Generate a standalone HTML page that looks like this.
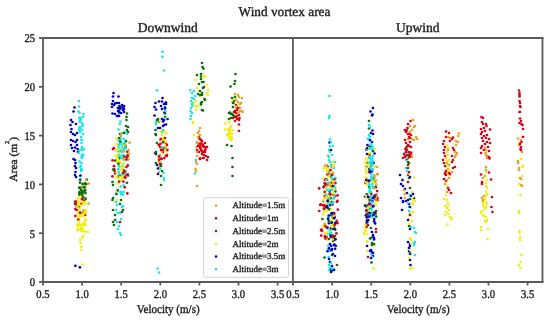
<!DOCTYPE html>
<html><head><meta charset="utf-8"><style>
html,body{margin:0;padding:0;background:#fff;}
svg{display:block;}
text{font-family:"Liberation Serif","Times New Roman",serif;fill:#1a1a1a;stroke:#1a1a1a;stroke-width:0.35px;text-rendering:geometricPrecision;}
</style></head><body>
<svg width="550" height="320" viewBox="0 0 550 320">
<rect width="550" height="320" fill="#fff"/>
<text x="284.5" y="15.6" font-size="13.3" text-anchor="middle">Wind vortex area</text>
<text x="167.7" y="31.6" font-size="13.5" text-anchor="middle">Downwind</text>
<text x="417.7" y="31.6" font-size="13.5" text-anchor="middle">Upwind</text>
<g style="filter:blur(0.3px)"><circle cx="482" cy="132" r="1.35" fill="#dc0018"/><circle cx="240" cy="111" r="1.35" fill="#eaa020"/><circle cx="126.5" cy="117" r="1.35" fill="#0a6e0a"/><circle cx="408" cy="175" r="1.35" fill="#0a6e0a"/><circle cx="123" cy="110" r="1.35" fill="#0000c0"/><circle cx="369.4" cy="217.5" r="1.35" fill="#18e8e8"/><circle cx="335.4" cy="191.5" r="1.35" fill="#0a6e0a"/><circle cx="81" cy="190.2" r="1.35" fill="#0a6e0a"/><circle cx="117" cy="200" r="1.35" fill="#f2ee10"/><circle cx="81.9" cy="197.9" r="1.35" fill="#f2ee10"/><circle cx="410" cy="238" r="1.35" fill="#f2ee10"/><circle cx="522" cy="186" r="1.35" fill="#eaa020"/><circle cx="335.1" cy="229.4" r="1.35" fill="#0000c0"/><circle cx="232.5" cy="102" r="1.35" fill="#f2ee10"/><circle cx="408" cy="139" r="1.35" fill="#eaa020"/><circle cx="486" cy="222" r="1.35" fill="#f2ee10"/><circle cx="202" cy="110" r="1.35" fill="#0a6e0a"/><circle cx="409" cy="207" r="1.35" fill="#18e8e8"/><circle cx="82.1" cy="195.9" r="1.35" fill="#eaa020"/><circle cx="81" cy="169" r="1.35" fill="#18e8e8"/><circle cx="375.2" cy="183.2" r="1.35" fill="#f2ee10"/><circle cx="200" cy="96" r="1.35" fill="#f2ee10"/><circle cx="203.5" cy="82" r="1.35" fill="#0a6e0a"/><circle cx="448" cy="155" r="1.35" fill="#f2ee10"/><circle cx="115.1" cy="160.6" r="1.35" fill="#0a6e0a"/><circle cx="166" cy="143" r="1.35" fill="#dc0018"/><circle cx="120.7" cy="180" r="1.35" fill="#f2ee10"/><circle cx="487" cy="156" r="1.35" fill="#eaa020"/><circle cx="377.3" cy="200.2" r="1.35" fill="#dc0018"/><circle cx="372.1" cy="197.5" r="1.35" fill="#18e8e8"/><circle cx="79.2" cy="128" r="1.35" fill="#18e8e8"/><circle cx="412" cy="156" r="1.35" fill="#eaa020"/><circle cx="324.3" cy="193.8" r="1.35" fill="#f2ee10"/><circle cx="366.2" cy="172.8" r="1.35" fill="#f2ee10"/><circle cx="197" cy="156" r="1.35" fill="#eaa020"/><circle cx="333.9" cy="184.8" r="1.35" fill="#dc0018"/><circle cx="125.5" cy="142.3" r="1.35" fill="#18e8e8"/><circle cx="127" cy="130" r="1.35" fill="#0a6e0a"/><circle cx="73.5" cy="159" r="1.35" fill="#0000c0"/><circle cx="369.4" cy="157.6" r="1.35" fill="#0000c0"/><circle cx="329.3" cy="194.9" r="1.35" fill="#0a6e0a"/><circle cx="165" cy="108.5" r="1.35" fill="#0000c0"/><circle cx="230" cy="112.5" r="1.35" fill="#0a6e0a"/><circle cx="447" cy="173" r="1.35" fill="#f2ee10"/><circle cx="415" cy="232" r="1.35" fill="#18e8e8"/><circle cx="236" cy="105" r="1.35" fill="#dc0018"/><circle cx="160" cy="140" r="1.35" fill="#eaa020"/><circle cx="487" cy="188" r="1.35" fill="#f2ee10"/><circle cx="166" cy="142" r="1.35" fill="#f2ee10"/><circle cx="368.7" cy="181.7" r="1.35" fill="#f2ee10"/><circle cx="370.7" cy="199.7" r="1.35" fill="#0a6e0a"/><circle cx="487" cy="135" r="1.35" fill="#dc0018"/><circle cx="332.6" cy="204.6" r="1.35" fill="#dc0018"/><circle cx="114" cy="225" r="1.35" fill="#0a6e0a"/><circle cx="126.5" cy="157.4" r="1.35" fill="#0a6e0a"/><circle cx="200" cy="135" r="1.35" fill="#eaa020"/><circle cx="127.3" cy="193.4" r="1.35" fill="#dc0018"/><circle cx="234" cy="101" r="1.35" fill="#0a6e0a"/><circle cx="79.3" cy="207.3" r="1.35" fill="#f2ee10"/><circle cx="519.5" cy="231" r="1.35" fill="#f2ee10"/><circle cx="484" cy="196" r="1.35" fill="#eaa020"/><circle cx="332" cy="272" r="1.35" fill="#f2ee10"/><circle cx="408" cy="165" r="1.35" fill="#dc0018"/><circle cx="71" cy="145" r="1.35" fill="#0000c0"/><circle cx="78.2" cy="197.5" r="1.35" fill="#f2ee10"/><circle cx="159" cy="121.5" r="1.35" fill="#0a6e0a"/><circle cx="445" cy="215" r="1.35" fill="#f2ee10"/><circle cx="329.7" cy="192.9" r="1.35" fill="#18e8e8"/><circle cx="481" cy="129" r="1.35" fill="#dc0018"/><circle cx="118.1" cy="183.2" r="1.35" fill="#f2ee10"/><circle cx="336" cy="246" r="1.35" fill="#0a6e0a"/><circle cx="372" cy="142" r="1.35" fill="#0000c0"/><circle cx="162" cy="119" r="1.35" fill="#0000c0"/><circle cx="122.5" cy="175.7" r="1.35" fill="#18e8e8"/><circle cx="233" cy="107" r="1.35" fill="#0a6e0a"/><circle cx="521" cy="185" r="1.35" fill="#eaa020"/><circle cx="167.5" cy="119" r="1.35" fill="#0000c0"/><circle cx="327.2" cy="204.8" r="1.35" fill="#0000c0"/><circle cx="118" cy="183.4" r="1.35" fill="#f2ee10"/><circle cx="239.5" cy="118" r="1.35" fill="#dc0018"/><circle cx="450" cy="138" r="1.35" fill="#eaa020"/><circle cx="121.6" cy="151.6" r="1.35" fill="#18e8e8"/><circle cx="78.5" cy="224" r="1.35" fill="#f2ee10"/><circle cx="409.2" cy="133.8" r="1.35" fill="#dc0018"/><circle cx="332" cy="255" r="1.35" fill="#0a6e0a"/><circle cx="204" cy="75.5" r="1.35" fill="#f2ee10"/><circle cx="411" cy="147" r="1.35" fill="#dc0018"/><circle cx="332.8" cy="174.1" r="1.35" fill="#0000c0"/><circle cx="372.3" cy="213.7" r="1.35" fill="#0000c0"/><circle cx="155.5" cy="103" r="1.35" fill="#0000c0"/><circle cx="371.5" cy="180.2" r="1.35" fill="#18e8e8"/><circle cx="324.4" cy="186.7" r="1.35" fill="#dc0018"/><circle cx="329.5" cy="142.5" r="1.35" fill="#0000c0"/><circle cx="72.5" cy="122" r="1.35" fill="#0000c0"/><circle cx="163" cy="138" r="1.35" fill="#f2ee10"/><circle cx="158.5" cy="144.8" r="1.35" fill="#eaa020"/><circle cx="332.3" cy="215.7" r="1.35" fill="#eaa020"/><circle cx="239" cy="97" r="1.35" fill="#eaa020"/><circle cx="196" cy="162" r="1.35" fill="#eaa020"/><circle cx="335" cy="236" r="1.35" fill="#0a6e0a"/><circle cx="84.8" cy="221.4" r="1.35" fill="#f2ee10"/><circle cx="406" cy="201" r="1.35" fill="#0000c0"/><circle cx="162" cy="135" r="1.35" fill="#f2ee10"/><circle cx="333" cy="146" r="1.35" fill="#18e8e8"/><circle cx="114.5" cy="171.1" r="1.35" fill="#dc0018"/><circle cx="371" cy="144" r="1.35" fill="#18e8e8"/><circle cx="372" cy="243" r="1.35" fill="#0a6e0a"/><circle cx="483" cy="205" r="1.35" fill="#f2ee10"/><circle cx="237" cy="106" r="1.35" fill="#eaa020"/><circle cx="410" cy="213" r="1.35" fill="#f2ee10"/><circle cx="486" cy="183" r="1.35" fill="#f2ee10"/><circle cx="334.4" cy="216.5" r="1.35" fill="#0000c0"/><circle cx="483" cy="141" r="1.35" fill="#dc0018"/><circle cx="199" cy="145" r="1.35" fill="#dc0018"/><circle cx="325.7" cy="186.7" r="1.35" fill="#f2ee10"/><circle cx="121" cy="219" r="1.35" fill="#18e8e8"/><circle cx="376" cy="232" r="1.35" fill="#dc0018"/><circle cx="369" cy="128.5" r="1.35" fill="#0a6e0a"/><circle cx="164.6" cy="141.3" r="1.35" fill="#f2ee10"/><circle cx="162.9" cy="149" r="1.35" fill="#eaa020"/><circle cx="191" cy="108" r="1.35" fill="#18e8e8"/><circle cx="164" cy="148" r="1.35" fill="#dc0018"/><circle cx="321.5" cy="229.7" r="1.35" fill="#dc0018"/><circle cx="486" cy="167" r="1.35" fill="#eaa020"/><circle cx="200" cy="159" r="1.35" fill="#dc0018"/><circle cx="408" cy="162" r="1.35" fill="#0a6e0a"/><circle cx="410" cy="260" r="1.35" fill="#0000c0"/><circle cx="159" cy="158" r="1.35" fill="#eaa020"/><circle cx="331.1" cy="194.4" r="1.35" fill="#f2ee10"/><circle cx="332" cy="249" r="1.35" fill="#0000c0"/><circle cx="332.1" cy="221.7" r="1.35" fill="#18e8e8"/><circle cx="161" cy="185" r="1.35" fill="#0a6e0a"/><circle cx="365.8" cy="215.1" r="1.35" fill="#f2ee10"/><circle cx="120.5" cy="150.2" r="1.35" fill="#18e8e8"/><circle cx="80.8" cy="229.1" r="1.35" fill="#f2ee10"/><circle cx="84.6" cy="190.7" r="1.35" fill="#0a6e0a"/><circle cx="116" cy="155.9" r="1.35" fill="#f2ee10"/><circle cx="75.4" cy="265.8" r="1.35" fill="#0000c0"/><circle cx="407" cy="150" r="1.35" fill="#dc0018"/><circle cx="368.1" cy="197.1" r="1.35" fill="#0000c0"/><circle cx="523" cy="129" r="1.35" fill="#dc0018"/><circle cx="328.3" cy="210.2" r="1.35" fill="#18e8e8"/><circle cx="367" cy="178.4" r="1.35" fill="#f2ee10"/><circle cx="75.8" cy="204.1" r="1.35" fill="#dc0018"/><circle cx="333" cy="241" r="1.35" fill="#0a6e0a"/><circle cx="157" cy="143" r="1.35" fill="#0a6e0a"/><circle cx="372" cy="232" r="1.35" fill="#0000c0"/><circle cx="335.4" cy="182.9" r="1.35" fill="#dc0018"/><circle cx="125" cy="132" r="1.35" fill="#18e8e8"/><circle cx="331" cy="272" r="1.35" fill="#0000c0"/><circle cx="193" cy="122" r="1.35" fill="#f2ee10"/><circle cx="80" cy="193.5" r="1.35" fill="#eaa020"/><circle cx="337" cy="265" r="1.35" fill="#0a6e0a"/><circle cx="370.3" cy="146.1" r="1.35" fill="#18e8e8"/><circle cx="370.4" cy="201.1" r="1.35" fill="#18e8e8"/><circle cx="80.6" cy="230.1" r="1.35" fill="#f2ee10"/><circle cx="414" cy="243" r="1.35" fill="#18e8e8"/><circle cx="78.1" cy="202.3" r="1.35" fill="#f2ee10"/><circle cx="373" cy="256" r="1.35" fill="#0000c0"/><circle cx="120" cy="204" r="1.35" fill="#0a6e0a"/><circle cx="120.1" cy="143.2" r="1.35" fill="#18e8e8"/><circle cx="127.6" cy="155.1" r="1.35" fill="#dc0018"/><circle cx="520" cy="118.5" r="1.35" fill="#dc0018"/><circle cx="230" cy="138.4" r="1.35" fill="#f2ee10"/><circle cx="371.2" cy="171.2" r="1.35" fill="#18e8e8"/><circle cx="330" cy="268" r="1.35" fill="#18e8e8"/><circle cx="329" cy="176" r="1.35" fill="#f2ee10"/><circle cx="121" cy="194" r="1.35" fill="#18e8e8"/><circle cx="75" cy="166" r="1.35" fill="#0000c0"/><circle cx="371" cy="250" r="1.35" fill="#0000c0"/><circle cx="335.3" cy="188.7" r="1.35" fill="#eaa020"/><circle cx="327.4" cy="174.5" r="1.35" fill="#dc0018"/><circle cx="331" cy="177" r="1.35" fill="#0a6e0a"/><circle cx="79" cy="106.5" r="1.35" fill="#18e8e8"/><circle cx="79.7" cy="121.7" r="1.35" fill="#18e8e8"/><circle cx="329" cy="270" r="1.35" fill="#18e8e8"/><circle cx="330.8" cy="208.5" r="1.35" fill="#f2ee10"/><circle cx="115.2" cy="173.4" r="1.35" fill="#dc0018"/><circle cx="331.2" cy="231.3" r="1.35" fill="#f2ee10"/><circle cx="370" cy="211.3" r="1.35" fill="#18e8e8"/><circle cx="408" cy="242" r="1.35" fill="#0000c0"/><circle cx="452" cy="139" r="1.35" fill="#dc0018"/><circle cx="487.5" cy="239" r="1.35" fill="#f2ee10"/><circle cx="163" cy="153" r="1.35" fill="#f2ee10"/><circle cx="323.4" cy="178.3" r="1.35" fill="#f2ee10"/><circle cx="122.4" cy="155.6" r="1.35" fill="#18e8e8"/><circle cx="118.5" cy="129.5" r="1.35" fill="#18e8e8"/><circle cx="234.5" cy="117" r="1.35" fill="#dc0018"/><circle cx="119.3" cy="112.4" r="1.35" fill="#0000c0"/><circle cx="199" cy="137" r="1.35" fill="#dc0018"/><circle cx="80.1" cy="206.3" r="1.35" fill="#f2ee10"/><circle cx="452" cy="218" r="1.35" fill="#f2ee10"/><circle cx="128" cy="127" r="1.35" fill="#0a6e0a"/><circle cx="159.7" cy="162.2" r="1.35" fill="#eaa020"/><circle cx="81.8" cy="231.2" r="1.35" fill="#f2ee10"/><circle cx="85.3" cy="187.7" r="1.35" fill="#eaa020"/><circle cx="123.3" cy="143.7" r="1.35" fill="#18e8e8"/><circle cx="482" cy="122" r="1.35" fill="#dc0018"/><circle cx="230.5" cy="86.5" r="1.35" fill="#0a6e0a"/><circle cx="370" cy="127" r="1.35" fill="#18e8e8"/><circle cx="79.3" cy="211.7" r="1.35" fill="#f2ee10"/><circle cx="486" cy="124" r="1.35" fill="#dc0018"/><circle cx="116" cy="194" r="1.35" fill="#18e8e8"/><circle cx="79.3" cy="150.7" r="1.35" fill="#18e8e8"/><circle cx="409" cy="178" r="1.35" fill="#0a6e0a"/><circle cx="203" cy="152" r="1.35" fill="#dc0018"/><circle cx="445" cy="147" r="1.35" fill="#dc0018"/><circle cx="452" cy="156" r="1.35" fill="#dc0018"/><circle cx="119.8" cy="176.1" r="1.35" fill="#18e8e8"/><circle cx="328" cy="167.1" r="1.35" fill="#0000c0"/><circle cx="372" cy="146" r="1.35" fill="#18e8e8"/><circle cx="447" cy="192" r="1.35" fill="#eaa020"/><circle cx="336.4" cy="233.4" r="1.35" fill="#dc0018"/><circle cx="372.5" cy="130.5" r="1.35" fill="#0000c0"/><circle cx="117.6" cy="161.7" r="1.35" fill="#f2ee10"/><circle cx="79.5" cy="127" r="1.35" fill="#18e8e8"/><circle cx="82.9" cy="225" r="1.35" fill="#f2ee10"/><circle cx="333" cy="182" r="1.35" fill="#0000c0"/><circle cx="370.6" cy="165" r="1.35" fill="#18e8e8"/><circle cx="157" cy="90.5" r="1.35" fill="#18e8e8"/><circle cx="375.1" cy="179.6" r="1.35" fill="#f2ee10"/><circle cx="370.6" cy="163.1" r="1.35" fill="#18e8e8"/><circle cx="326.1" cy="194.5" r="1.35" fill="#18e8e8"/><circle cx="366.6" cy="214.6" r="1.35" fill="#0a6e0a"/><circle cx="120" cy="124" r="1.35" fill="#18e8e8"/><circle cx="329" cy="160" r="1.35" fill="#18e8e8"/><circle cx="331.8" cy="186.2" r="1.35" fill="#18e8e8"/><circle cx="121" cy="113" r="1.35" fill="#0000c0"/><circle cx="84.6" cy="200.9" r="1.35" fill="#eaa020"/><circle cx="333.7" cy="239.9" r="1.35" fill="#dc0018"/><circle cx="408" cy="182" r="1.35" fill="#dc0018"/><circle cx="328.7" cy="197.7" r="1.35" fill="#dc0018"/><circle cx="84.6" cy="213.8" r="1.35" fill="#f2ee10"/><circle cx="191" cy="116" r="1.35" fill="#18e8e8"/><circle cx="84.3" cy="231.5" r="1.35" fill="#f2ee10"/><circle cx="74.5" cy="107.5" r="1.35" fill="#0000c0"/><circle cx="203" cy="88" r="1.35" fill="#0a6e0a"/><circle cx="408" cy="124" r="1.35" fill="#dc0018"/><circle cx="82" cy="158" r="1.35" fill="#18e8e8"/><circle cx="126.9" cy="182.8" r="1.35" fill="#0a6e0a"/><circle cx="409" cy="211" r="1.35" fill="#18e8e8"/><circle cx="85.7" cy="198.7" r="1.35" fill="#0a6e0a"/><circle cx="366.1" cy="224.2" r="1.35" fill="#0a6e0a"/><circle cx="86.8" cy="179.7" r="1.35" fill="#0a6e0a"/><circle cx="191" cy="101" r="1.35" fill="#18e8e8"/><circle cx="192.5" cy="106" r="1.35" fill="#18e8e8"/><circle cx="201" cy="79" r="1.35" fill="#0a6e0a"/><circle cx="332.6" cy="162.5" r="1.35" fill="#f2ee10"/><circle cx="375.5" cy="199.5" r="1.35" fill="#dc0018"/><circle cx="366.3" cy="210.4" r="1.35" fill="#0000c0"/><circle cx="83" cy="236" r="1.35" fill="#f2ee10"/><circle cx="327.5" cy="207.3" r="1.35" fill="#18e8e8"/><circle cx="521" cy="147" r="1.35" fill="#dc0018"/><circle cx="156" cy="154" r="1.35" fill="#0000c0"/><circle cx="160" cy="128" r="1.35" fill="#0000c0"/><circle cx="412" cy="192" r="1.35" fill="#f2ee10"/><circle cx="486" cy="138" r="1.35" fill="#dc0018"/><circle cx="123.1" cy="150.5" r="1.35" fill="#eaa020"/><circle cx="113" cy="222" r="1.35" fill="#0a6e0a"/><circle cx="123.9" cy="160" r="1.35" fill="#18e8e8"/><circle cx="333" cy="229" r="1.35" fill="#0000c0"/><circle cx="367" cy="241" r="1.35" fill="#f2ee10"/><circle cx="118.7" cy="140.3" r="1.35" fill="#18e8e8"/><circle cx="80.2" cy="198" r="1.35" fill="#f2ee10"/><circle cx="83.7" cy="199.7" r="1.35" fill="#dc0018"/><circle cx="371.6" cy="178" r="1.35" fill="#18e8e8"/><circle cx="367.1" cy="148.8" r="1.35" fill="#0000c0"/><circle cx="319.2" cy="188.4" r="1.35" fill="#dc0018"/><circle cx="239" cy="119" r="1.35" fill="#dc0018"/><circle cx="330.1" cy="194.7" r="1.35" fill="#dc0018"/><circle cx="118.4" cy="146.1" r="1.35" fill="#18e8e8"/><circle cx="159" cy="172" r="1.35" fill="#eaa020"/><circle cx="409" cy="251" r="1.35" fill="#0000c0"/><circle cx="522.5" cy="125" r="1.35" fill="#dc0018"/><circle cx="448" cy="150" r="1.35" fill="#eaa020"/><circle cx="123.7" cy="185.3" r="1.35" fill="#18e8e8"/><circle cx="330.6" cy="174.7" r="1.35" fill="#18e8e8"/><circle cx="120.8" cy="138.7" r="1.35" fill="#18e8e8"/><circle cx="410.5" cy="121" r="1.35" fill="#dc0018"/><circle cx="82" cy="155" r="1.35" fill="#18e8e8"/><circle cx="120.8" cy="186.6" r="1.35" fill="#18e8e8"/><circle cx="367.1" cy="162.9" r="1.35" fill="#0000c0"/><circle cx="331.8" cy="225.1" r="1.35" fill="#f2ee10"/><circle cx="333" cy="174" r="1.35" fill="#18e8e8"/><circle cx="372.8" cy="156.2" r="1.35" fill="#18e8e8"/><circle cx="366.2" cy="167" r="1.35" fill="#0000c0"/><circle cx="113" cy="210" r="1.35" fill="#0a6e0a"/><circle cx="325" cy="236.3" r="1.35" fill="#dc0018"/><circle cx="371.6" cy="147.6" r="1.35" fill="#18e8e8"/><circle cx="164.5" cy="131.2" r="1.35" fill="#f2ee10"/><circle cx="371.8" cy="206.9" r="1.35" fill="#18e8e8"/><circle cx="327.9" cy="183.3" r="1.35" fill="#eaa020"/><circle cx="81" cy="171" r="1.35" fill="#18e8e8"/><circle cx="410" cy="244" r="1.35" fill="#0000c0"/><circle cx="410" cy="157" r="1.35" fill="#0a6e0a"/><circle cx="162.2" cy="138.6" r="1.35" fill="#f2ee10"/><circle cx="367.9" cy="207.8" r="1.35" fill="#dc0018"/><circle cx="77.8" cy="220.1" r="1.35" fill="#f2ee10"/><circle cx="232" cy="138" r="1.35" fill="#f2ee10"/><circle cx="82.8" cy="192.3" r="1.35" fill="#0a6e0a"/><circle cx="371.4" cy="163.8" r="1.35" fill="#0000c0"/><circle cx="127.3" cy="151.7" r="1.35" fill="#dc0018"/><circle cx="372.2" cy="183.7" r="1.35" fill="#18e8e8"/><circle cx="230" cy="128" r="1.35" fill="#f2ee10"/><circle cx="125.1" cy="176.7" r="1.35" fill="#18e8e8"/><circle cx="198" cy="106" r="1.35" fill="#f2ee10"/><circle cx="328.7" cy="217" r="1.35" fill="#0a6e0a"/><circle cx="403" cy="186" r="1.35" fill="#0000c0"/><circle cx="79.3" cy="130.2" r="1.35" fill="#18e8e8"/><circle cx="483" cy="124" r="1.35" fill="#dc0018"/><circle cx="80.9" cy="119.5" r="1.35" fill="#18e8e8"/><circle cx="78.5" cy="219.9" r="1.35" fill="#dc0018"/><circle cx="456" cy="145" r="1.35" fill="#eaa020"/><circle cx="408.9" cy="152.3" r="1.35" fill="#dc0018"/><circle cx="199" cy="84" r="1.35" fill="#0a6e0a"/><circle cx="331.1" cy="198.3" r="1.35" fill="#0000c0"/><circle cx="156" cy="109.5" r="1.35" fill="#0000c0"/><circle cx="481" cy="227" r="1.35" fill="#f2ee10"/><circle cx="228" cy="134" r="1.35" fill="#f2ee10"/><circle cx="522" cy="152" r="1.35" fill="#eaa020"/><circle cx="368" cy="139" r="1.35" fill="#18e8e8"/><circle cx="161.6" cy="147.4" r="1.35" fill="#dc0018"/><circle cx="331.4" cy="270.6" r="1.35" fill="#0000c0"/><circle cx="80.2" cy="213" r="1.35" fill="#f2ee10"/><circle cx="519.5" cy="96.5" r="1.35" fill="#dc0018"/><circle cx="128" cy="132" r="1.35" fill="#0a6e0a"/><circle cx="329.2" cy="204.3" r="1.35" fill="#f2ee10"/><circle cx="375.1" cy="223.4" r="1.35" fill="#0000c0"/><circle cx="405" cy="189" r="1.35" fill="#0000c0"/><circle cx="376.3" cy="201.7" r="1.35" fill="#f2ee10"/><circle cx="370" cy="211.1" r="1.35" fill="#18e8e8"/><circle cx="445" cy="184" r="1.35" fill="#eaa020"/><circle cx="119.2" cy="174.8" r="1.35" fill="#18e8e8"/><circle cx="332.2" cy="235.1" r="1.35" fill="#f2ee10"/><circle cx="483" cy="215" r="1.35" fill="#f2ee10"/><circle cx="370.8" cy="158.7" r="1.35" fill="#18e8e8"/><circle cx="163" cy="121.5" r="1.35" fill="#0000c0"/><circle cx="364" cy="233" r="1.35" fill="#f2ee10"/><circle cx="519" cy="184" r="1.35" fill="#f2ee10"/><circle cx="331.4" cy="204.7" r="1.35" fill="#18e8e8"/><circle cx="118" cy="213" r="1.35" fill="#18e8e8"/><circle cx="84.2" cy="199.8" r="1.35" fill="#0a6e0a"/><circle cx="331.7" cy="182.5" r="1.35" fill="#0000c0"/><circle cx="119.1" cy="153.3" r="1.35" fill="#f2ee10"/><circle cx="159" cy="160" r="1.35" fill="#dc0018"/><circle cx="368.8" cy="204.7" r="1.35" fill="#0000c0"/><circle cx="408" cy="152" r="1.35" fill="#18e8e8"/><circle cx="333" cy="172.9" r="1.35" fill="#eaa020"/><circle cx="377.4" cy="198.2" r="1.35" fill="#dc0018"/><circle cx="78" cy="152" r="1.35" fill="#0000c0"/><circle cx="118" cy="190" r="1.35" fill="#f2ee10"/><circle cx="519.5" cy="112" r="1.35" fill="#dc0018"/><circle cx="129.6" cy="142.7" r="1.35" fill="#eaa020"/><circle cx="195" cy="96" r="1.35" fill="#18e8e8"/><circle cx="482" cy="146" r="1.35" fill="#dc0018"/><circle cx="195" cy="173.5" r="1.35" fill="#18e8e8"/><circle cx="159" cy="167" r="1.35" fill="#eaa020"/><circle cx="162" cy="109" r="1.35" fill="#0000c0"/><circle cx="122" cy="145.1" r="1.35" fill="#18e8e8"/><circle cx="372.5" cy="180.4" r="1.35" fill="#f2ee10"/><circle cx="409" cy="152" r="1.35" fill="#dc0018"/><circle cx="205" cy="152" r="1.35" fill="#dc0018"/><circle cx="375.1" cy="166.5" r="1.35" fill="#f2ee10"/><circle cx="325.6" cy="206.8" r="1.35" fill="#f2ee10"/><circle cx="369.5" cy="181.3" r="1.35" fill="#f2ee10"/><circle cx="200" cy="91" r="1.35" fill="#f2ee10"/><circle cx="122.4" cy="175.1" r="1.35" fill="#18e8e8"/><circle cx="446" cy="137" r="1.35" fill="#dc0018"/><circle cx="364" cy="234" r="1.35" fill="#f2ee10"/><circle cx="369.1" cy="156.8" r="1.35" fill="#18e8e8"/><circle cx="329" cy="150" r="1.35" fill="#18e8e8"/><circle cx="486" cy="207" r="1.35" fill="#f2ee10"/><circle cx="369" cy="121" r="1.35" fill="#0a6e0a"/><circle cx="235" cy="97" r="1.35" fill="#0a6e0a"/><circle cx="368.6" cy="181.2" r="1.35" fill="#dc0018"/><circle cx="199" cy="144" r="1.35" fill="#eaa020"/><circle cx="370.4" cy="209.4" r="1.35" fill="#0000c0"/><circle cx="482" cy="211" r="1.35" fill="#f2ee10"/><circle cx="369.4" cy="171.7" r="1.35" fill="#18e8e8"/><circle cx="331" cy="165" r="1.35" fill="#18e8e8"/><circle cx="80" cy="204.8" r="1.35" fill="#f2ee10"/><circle cx="331" cy="246" r="1.35" fill="#0000c0"/><circle cx="196.5" cy="147" r="1.35" fill="#eaa020"/><circle cx="333" cy="254" r="1.35" fill="#0000c0"/><circle cx="375.6" cy="213.7" r="1.35" fill="#dc0018"/><circle cx="483" cy="178" r="1.35" fill="#eaa020"/><circle cx="116" cy="210" r="1.35" fill="#18e8e8"/><circle cx="330" cy="181" r="1.35" fill="#f2ee10"/><circle cx="331" cy="237" r="1.35" fill="#0000c0"/><circle cx="373.3" cy="178.3" r="1.35" fill="#0a6e0a"/><circle cx="456" cy="141" r="1.35" fill="#eaa020"/><circle cx="414" cy="127" r="1.35" fill="#eaa020"/><circle cx="162" cy="101.5" r="1.35" fill="#0000c0"/><circle cx="325.6" cy="210.1" r="1.35" fill="#f2ee10"/><circle cx="416" cy="137" r="1.35" fill="#eaa020"/><circle cx="407" cy="146.5" r="1.35" fill="#0a6e0a"/><circle cx="328.2" cy="229.7" r="1.35" fill="#f2ee10"/><circle cx="325" cy="237" r="1.35" fill="#dc0018"/><circle cx="365.6" cy="183.9" r="1.35" fill="#f2ee10"/><circle cx="112" cy="104" r="1.35" fill="#0000c0"/><circle cx="371.3" cy="209.5" r="1.35" fill="#18e8e8"/><circle cx="485" cy="221" r="1.35" fill="#f2ee10"/><circle cx="113" cy="198" r="1.35" fill="#0a6e0a"/><circle cx="445" cy="206" r="1.35" fill="#f2ee10"/><circle cx="125.6" cy="147.2" r="1.35" fill="#0a6e0a"/><circle cx="159" cy="145" r="1.35" fill="#dc0018"/><circle cx="335" cy="256" r="1.35" fill="#0000c0"/><circle cx="322.4" cy="219" r="1.35" fill="#0a6e0a"/><circle cx="330" cy="221.4" r="1.35" fill="#dc0018"/><circle cx="366" cy="167.6" r="1.35" fill="#f2ee10"/><circle cx="370" cy="251" r="1.35" fill="#0000c0"/><circle cx="447" cy="200" r="1.35" fill="#f2ee10"/><circle cx="327" cy="172" r="1.35" fill="#eaa020"/><circle cx="324.8" cy="196.4" r="1.35" fill="#dc0018"/><circle cx="336.7" cy="220.9" r="1.35" fill="#dc0018"/><circle cx="120" cy="213" r="1.35" fill="#18e8e8"/><circle cx="124.7" cy="187.3" r="1.35" fill="#dc0018"/><circle cx="163" cy="152" r="1.35" fill="#dc0018"/><circle cx="372.3" cy="169.6" r="1.35" fill="#0000c0"/><circle cx="411.2" cy="152.7" r="1.35" fill="#dc0018"/><circle cx="410" cy="195" r="1.35" fill="#18e8e8"/><circle cx="371.2" cy="177.4" r="1.35" fill="#18e8e8"/><circle cx="118.5" cy="172.5" r="1.35" fill="#18e8e8"/><circle cx="157.5" cy="268.5" r="1.35" fill="#18e8e8"/><circle cx="166" cy="151" r="1.35" fill="#f2ee10"/><circle cx="229" cy="113" r="1.35" fill="#0a6e0a"/><circle cx="519" cy="170" r="1.35" fill="#eaa020"/><circle cx="366.6" cy="161.5" r="1.35" fill="#f2ee10"/><circle cx="202" cy="63" r="1.35" fill="#0a6e0a"/><circle cx="159" cy="162" r="1.35" fill="#eaa020"/><circle cx="80.2" cy="216.2" r="1.35" fill="#f2ee10"/><circle cx="333" cy="270" r="1.35" fill="#0000c0"/><circle cx="403" cy="202" r="1.35" fill="#0000c0"/><circle cx="413" cy="212" r="1.35" fill="#f2ee10"/><circle cx="119.6" cy="150.7" r="1.35" fill="#18e8e8"/><circle cx="372.7" cy="198.8" r="1.35" fill="#18e8e8"/><circle cx="156" cy="152" r="1.35" fill="#0a6e0a"/><circle cx="122.8" cy="194.7" r="1.35" fill="#18e8e8"/><circle cx="326" cy="167.7" r="1.35" fill="#f2ee10"/><circle cx="203" cy="146" r="1.35" fill="#dc0018"/><circle cx="160" cy="166" r="1.35" fill="#eaa020"/><circle cx="373.5" cy="268.5" r="1.35" fill="#f2ee10"/><circle cx="80.5" cy="243" r="1.35" fill="#f2ee10"/><circle cx="370.9" cy="215.5" r="1.35" fill="#0000c0"/><circle cx="325.6" cy="184.9" r="1.35" fill="#dc0018"/><circle cx="164.3" cy="158.1" r="1.35" fill="#dc0018"/><circle cx="326" cy="227" r="1.35" fill="#f2ee10"/><circle cx="400" cy="175" r="1.35" fill="#0000c0"/><circle cx="82.6" cy="228.5" r="1.35" fill="#f2ee10"/><circle cx="208" cy="157" r="1.35" fill="#dc0018"/><circle cx="115" cy="114" r="1.35" fill="#0000c0"/><circle cx="450" cy="175" r="1.35" fill="#f2ee10"/><circle cx="411" cy="196" r="1.35" fill="#0000c0"/><circle cx="71" cy="132" r="1.35" fill="#0000c0"/><circle cx="334.7" cy="195.9" r="1.35" fill="#dc0018"/><circle cx="119.3" cy="155.3" r="1.35" fill="#18e8e8"/><circle cx="327" cy="234.2" r="1.35" fill="#18e8e8"/><circle cx="81.5" cy="190.5" r="1.35" fill="#0a6e0a"/><circle cx="79.4" cy="117.7" r="1.35" fill="#18e8e8"/><circle cx="123.5" cy="155" r="1.35" fill="#18e8e8"/><circle cx="374.4" cy="177" r="1.35" fill="#eaa020"/><circle cx="375" cy="245" r="1.35" fill="#f2ee10"/><circle cx="366" cy="231" r="1.35" fill="#f2ee10"/><circle cx="235" cy="111" r="1.35" fill="#dc0018"/><circle cx="115.2" cy="103.3" r="1.35" fill="#0000c0"/><circle cx="82" cy="147" r="1.35" fill="#18e8e8"/><circle cx="374.5" cy="212.6" r="1.35" fill="#0000c0"/><circle cx="411" cy="227" r="1.35" fill="#18e8e8"/><circle cx="208" cy="95" r="1.35" fill="#f2ee10"/><circle cx="403" cy="158" r="1.35" fill="#dc0018"/><circle cx="332" cy="155" r="1.35" fill="#18e8e8"/><circle cx="122.6" cy="166" r="1.35" fill="#18e8e8"/><circle cx="234.5" cy="84" r="1.35" fill="#0a6e0a"/><circle cx="118.5" cy="177.4" r="1.35" fill="#18e8e8"/><circle cx="520" cy="178" r="1.35" fill="#eaa020"/><circle cx="447.5" cy="224.5" r="1.35" fill="#f2ee10"/><circle cx="332.7" cy="235.7" r="1.35" fill="#dc0018"/><circle cx="371.4" cy="160.7" r="1.35" fill="#18e8e8"/><circle cx="488" cy="229" r="1.35" fill="#f2ee10"/><circle cx="118.8" cy="148.6" r="1.35" fill="#18e8e8"/><circle cx="116.4" cy="177.3" r="1.35" fill="#f2ee10"/><circle cx="521" cy="140" r="1.35" fill="#eaa020"/><circle cx="236" cy="113" r="1.35" fill="#dc0018"/><circle cx="123" cy="158.5" r="1.35" fill="#18e8e8"/><circle cx="373.6" cy="162.8" r="1.35" fill="#0000c0"/><circle cx="164" cy="120" r="1.35" fill="#0000c0"/><circle cx="377.8" cy="174" r="1.35" fill="#eaa020"/><circle cx="446" cy="131.5" r="1.35" fill="#dc0018"/><circle cx="369.2" cy="202.1" r="1.35" fill="#18e8e8"/><circle cx="330" cy="139.5" r="1.35" fill="#18e8e8"/><circle cx="230.1" cy="131.2" r="1.35" fill="#f2ee10"/><circle cx="118.6" cy="175.5" r="1.35" fill="#18e8e8"/><circle cx="366.3" cy="149.4" r="1.35" fill="#0000c0"/><circle cx="403" cy="201" r="1.35" fill="#0000c0"/><circle cx="410" cy="138" r="1.35" fill="#dc0018"/><circle cx="75.2" cy="201.7" r="1.35" fill="#dc0018"/><circle cx="331.7" cy="213.5" r="1.35" fill="#0000c0"/><circle cx="232" cy="134" r="1.35" fill="#f2ee10"/><circle cx="414" cy="228" r="1.35" fill="#18e8e8"/><circle cx="454" cy="150" r="1.35" fill="#dc0018"/><circle cx="166.3" cy="133.2" r="1.35" fill="#f2ee10"/><circle cx="488" cy="147" r="1.35" fill="#dc0018"/><circle cx="325.1" cy="165.6" r="1.35" fill="#eaa020"/><circle cx="327.3" cy="197.3" r="1.35" fill="#f2ee10"/><circle cx="328" cy="155.5" r="1.35" fill="#eaa020"/><circle cx="369.8" cy="189.8" r="1.35" fill="#18e8e8"/><circle cx="335" cy="178" r="1.35" fill="#18e8e8"/><circle cx="231.5" cy="140" r="1.35" fill="#f2ee10"/><circle cx="329.9" cy="193.7" r="1.35" fill="#dc0018"/><circle cx="374.8" cy="195.5" r="1.35" fill="#0000c0"/><circle cx="406" cy="160" r="1.35" fill="#18e8e8"/><circle cx="231.5" cy="146" r="1.35" fill="#0a6e0a"/><circle cx="329.5" cy="221.5" r="1.35" fill="#18e8e8"/><circle cx="200" cy="148" r="1.35" fill="#dc0018"/><circle cx="371.5" cy="177.1" r="1.35" fill="#18e8e8"/><circle cx="329" cy="249" r="1.35" fill="#18e8e8"/><circle cx="445" cy="156" r="1.35" fill="#dc0018"/><circle cx="158" cy="168.5" r="1.35" fill="#0000c0"/><circle cx="415" cy="201" r="1.35" fill="#f2ee10"/><circle cx="190" cy="90" r="1.35" fill="#18e8e8"/><circle cx="519" cy="90.5" r="1.35" fill="#dc0018"/><circle cx="158" cy="128" r="1.35" fill="#0000c0"/><circle cx="323.4" cy="214.5" r="1.35" fill="#f2ee10"/><circle cx="374.8" cy="183" r="1.35" fill="#eaa020"/><circle cx="371.5" cy="195.9" r="1.35" fill="#18e8e8"/><circle cx="123.9" cy="106.4" r="1.35" fill="#0000c0"/><circle cx="337.6" cy="195.3" r="1.35" fill="#dc0018"/><circle cx="127.8" cy="165.4" r="1.35" fill="#dc0018"/><circle cx="204.5" cy="99" r="1.35" fill="#0a6e0a"/><circle cx="331.2" cy="177.7" r="1.35" fill="#18e8e8"/><circle cx="410" cy="142" r="1.35" fill="#dc0018"/><circle cx="118.3" cy="159.6" r="1.35" fill="#f2ee10"/><circle cx="80.9" cy="227.5" r="1.35" fill="#f2ee10"/><circle cx="81.5" cy="213.3" r="1.35" fill="#0a6e0a"/><circle cx="160.8" cy="139.1" r="1.35" fill="#dc0018"/><circle cx="192" cy="98" r="1.35" fill="#18e8e8"/><circle cx="368.2" cy="184" r="1.35" fill="#f2ee10"/><circle cx="116" cy="202" r="1.35" fill="#18e8e8"/><circle cx="324.1" cy="208.7" r="1.35" fill="#0a6e0a"/><circle cx="84.2" cy="213" r="1.35" fill="#0a6e0a"/><circle cx="77" cy="140" r="1.35" fill="#0000c0"/><circle cx="482" cy="198" r="1.35" fill="#eaa020"/><circle cx="521" cy="150" r="1.35" fill="#dc0018"/><circle cx="204" cy="87" r="1.35" fill="#0a6e0a"/><circle cx="72" cy="148" r="1.35" fill="#0000c0"/><circle cx="330.1" cy="205.1" r="1.35" fill="#0000c0"/><circle cx="522" cy="176" r="1.35" fill="#f2ee10"/><circle cx="78.8" cy="204.2" r="1.35" fill="#f2ee10"/><circle cx="329" cy="157" r="1.35" fill="#18e8e8"/><circle cx="202.1" cy="151.4" r="1.35" fill="#dc0018"/><circle cx="401" cy="184" r="1.35" fill="#0000c0"/><circle cx="333.5" cy="237.4" r="1.35" fill="#f2ee10"/><circle cx="323.9" cy="208.8" r="1.35" fill="#dc0018"/><circle cx="520.5" cy="195" r="1.35" fill="#f2ee10"/><circle cx="165.5" cy="102.5" r="1.35" fill="#18e8e8"/><circle cx="79" cy="101" r="1.35" fill="#18e8e8"/><circle cx="371" cy="192.2" r="1.35" fill="#18e8e8"/><circle cx="164" cy="180" r="1.35" fill="#18e8e8"/><circle cx="448" cy="165" r="1.35" fill="#f2ee10"/><circle cx="193" cy="123" r="1.35" fill="#f2ee10"/><circle cx="120" cy="107.6" r="1.35" fill="#0000c0"/><circle cx="88.6" cy="183.6" r="1.35" fill="#eaa020"/><circle cx="489.5" cy="158.5" r="1.35" fill="#dc0018"/><circle cx="240" cy="108" r="1.35" fill="#eaa020"/><circle cx="446" cy="195" r="1.35" fill="#f2ee10"/><circle cx="197" cy="143" r="1.35" fill="#eaa020"/><circle cx="196" cy="106" r="1.35" fill="#f2ee10"/><circle cx="459" cy="133.5" r="1.35" fill="#eaa020"/><circle cx="203" cy="145" r="1.35" fill="#dc0018"/><circle cx="327.6" cy="251.2" r="1.35" fill="#0000c0"/><circle cx="487" cy="142" r="1.35" fill="#dc0018"/><circle cx="372.3" cy="164.3" r="1.35" fill="#18e8e8"/><circle cx="80.2" cy="166.8" r="1.35" fill="#18e8e8"/><circle cx="375.9" cy="198.8" r="1.35" fill="#dc0018"/><circle cx="372.5" cy="114.5" r="1.35" fill="#0000c0"/><circle cx="446" cy="158" r="1.35" fill="#f2ee10"/><circle cx="120.2" cy="143.2" r="1.35" fill="#18e8e8"/><circle cx="197" cy="75" r="1.35" fill="#0a6e0a"/><circle cx="369" cy="171.6" r="1.35" fill="#18e8e8"/><circle cx="121.9" cy="176.2" r="1.35" fill="#f2ee10"/><circle cx="236" cy="117" r="1.35" fill="#dc0018"/><circle cx="492.5" cy="212" r="1.35" fill="#dc0018"/><circle cx="122" cy="133" r="1.35" fill="#18e8e8"/><circle cx="116.7" cy="177.5" r="1.35" fill="#f2ee10"/><circle cx="167" cy="145" r="1.35" fill="#dc0018"/><circle cx="81" cy="137" r="1.35" fill="#18e8e8"/><circle cx="326.6" cy="186.5" r="1.35" fill="#18e8e8"/><circle cx="85.2" cy="224.4" r="1.35" fill="#f2ee10"/><circle cx="123.1" cy="170.1" r="1.35" fill="#18e8e8"/><circle cx="81.6" cy="186.6" r="1.35" fill="#eaa020"/><circle cx="371.7" cy="216.5" r="1.35" fill="#18e8e8"/><circle cx="329.8" cy="197.9" r="1.35" fill="#0a6e0a"/><circle cx="409" cy="248" r="1.35" fill="#0000c0"/><circle cx="78.2" cy="228.9" r="1.35" fill="#f2ee10"/><circle cx="367" cy="251" r="1.35" fill="#f2ee10"/><circle cx="370.1" cy="166.5" r="1.35" fill="#dc0018"/><circle cx="75.5" cy="172" r="1.35" fill="#0000c0"/><circle cx="369.5" cy="147" r="1.35" fill="#0000c0"/><circle cx="160" cy="155" r="1.35" fill="#eaa020"/><circle cx="76.4" cy="201.3" r="1.35" fill="#dc0018"/><circle cx="326.9" cy="184.2" r="1.35" fill="#dc0018"/><circle cx="119.5" cy="106" r="1.35" fill="#0000c0"/><circle cx="367" cy="242" r="1.35" fill="#f2ee10"/><circle cx="200" cy="91" r="1.35" fill="#0a6e0a"/><circle cx="126.5" cy="120" r="1.35" fill="#0a6e0a"/><circle cx="120" cy="134" r="1.35" fill="#0a6e0a"/><circle cx="323.3" cy="201.6" r="1.35" fill="#eaa020"/><circle cx="521" cy="121" r="1.35" fill="#dc0018"/><circle cx="164.8" cy="146.1" r="1.35" fill="#f2ee10"/><circle cx="75" cy="203.8" r="1.35" fill="#dc0018"/><circle cx="326.2" cy="206" r="1.35" fill="#0000c0"/><circle cx="371.5" cy="174.4" r="1.35" fill="#18e8e8"/><circle cx="84.7" cy="225.2" r="1.35" fill="#f2ee10"/><circle cx="161" cy="166" r="1.35" fill="#0a6e0a"/><circle cx="157" cy="165" r="1.35" fill="#0000c0"/><circle cx="325" cy="180" r="1.35" fill="#dc0018"/><circle cx="486" cy="217" r="1.35" fill="#f2ee10"/><circle cx="82.1" cy="192.4" r="1.35" fill="#0a6e0a"/><circle cx="196" cy="101" r="1.35" fill="#f2ee10"/><circle cx="366.2" cy="183.8" r="1.35" fill="#f2ee10"/><circle cx="235" cy="94" r="1.35" fill="#eaa020"/><circle cx="83.6" cy="187.5" r="1.35" fill="#0a6e0a"/><circle cx="481" cy="174.5" r="1.35" fill="#dc0018"/><circle cx="328.8" cy="202.8" r="1.35" fill="#18e8e8"/><circle cx="455" cy="167" r="1.35" fill="#dc0018"/><circle cx="328.3" cy="204" r="1.35" fill="#18e8e8"/><circle cx="521.5" cy="124" r="1.35" fill="#dc0018"/><circle cx="123" cy="169.5" r="1.35" fill="#f2ee10"/><circle cx="201" cy="103" r="1.35" fill="#0a6e0a"/><circle cx="366.9" cy="218.5" r="1.35" fill="#f2ee10"/><circle cx="373" cy="108" r="1.35" fill="#0000c0"/><circle cx="520" cy="237.5" r="1.35" fill="#f2ee10"/><circle cx="448" cy="137" r="1.35" fill="#eaa020"/><circle cx="326.7" cy="237.3" r="1.35" fill="#dc0018"/><circle cx="78.8" cy="206.2" r="1.35" fill="#0a6e0a"/><circle cx="485" cy="131" r="1.35" fill="#dc0018"/><circle cx="330.3" cy="189.9" r="1.35" fill="#f2ee10"/><circle cx="375.6" cy="187.2" r="1.35" fill="#eaa020"/><circle cx="120.5" cy="121.5" r="1.35" fill="#18e8e8"/><circle cx="80" cy="225" r="1.35" fill="#f2ee10"/><circle cx="329.6" cy="190.9" r="1.35" fill="#0a6e0a"/><circle cx="370.7" cy="164.5" r="1.35" fill="#0a6e0a"/><circle cx="333.5" cy="237.1" r="1.35" fill="#0000c0"/><circle cx="83.9" cy="149.1" r="1.35" fill="#18e8e8"/><circle cx="127" cy="134" r="1.35" fill="#18e8e8"/><circle cx="163.5" cy="173" r="1.35" fill="#18e8e8"/><circle cx="77.5" cy="149" r="1.35" fill="#0000c0"/><circle cx="198" cy="146" r="1.35" fill="#dc0018"/><circle cx="233" cy="115" r="1.35" fill="#0a6e0a"/><circle cx="412" cy="268" r="1.35" fill="#f2ee10"/><circle cx="487" cy="194" r="1.35" fill="#f2ee10"/><circle cx="402" cy="210" r="1.35" fill="#0000c0"/><circle cx="369.5" cy="187.1" r="1.35" fill="#f2ee10"/><circle cx="231" cy="126" r="1.35" fill="#f2ee10"/><circle cx="77.8" cy="200.6" r="1.35" fill="#f2ee10"/><circle cx="366" cy="170.7" r="1.35" fill="#f2ee10"/><circle cx="160.9" cy="158.6" r="1.35" fill="#dc0018"/><circle cx="331.9" cy="220.2" r="1.35" fill="#f2ee10"/><circle cx="334.1" cy="269.8" r="1.35" fill="#0000c0"/><circle cx="446" cy="212" r="1.35" fill="#f2ee10"/><circle cx="162.5" cy="98" r="1.35" fill="#0000c0"/><circle cx="81.7" cy="197.7" r="1.35" fill="#f2ee10"/><circle cx="76" cy="177" r="1.35" fill="#0000c0"/><circle cx="367.7" cy="207.9" r="1.35" fill="#f2ee10"/><circle cx="366.9" cy="148.8" r="1.35" fill="#f2ee10"/><circle cx="124.3" cy="176.9" r="1.35" fill="#18e8e8"/><circle cx="200.4" cy="146.7" r="1.35" fill="#dc0018"/><circle cx="333" cy="184" r="1.35" fill="#dc0018"/><circle cx="482" cy="184" r="1.35" fill="#dc0018"/><circle cx="365.2" cy="182.6" r="1.35" fill="#dc0018"/><circle cx="485" cy="144" r="1.35" fill="#dc0018"/><circle cx="201" cy="74" r="1.35" fill="#0a6e0a"/><circle cx="320.7" cy="204.3" r="1.35" fill="#dc0018"/><circle cx="410" cy="250" r="1.35" fill="#f2ee10"/><circle cx="410" cy="188" r="1.35" fill="#0a6e0a"/><circle cx="232.5" cy="167" r="1.35" fill="#0a6e0a"/><circle cx="321.1" cy="230.2" r="1.35" fill="#dc0018"/><circle cx="519.5" cy="93" r="1.35" fill="#dc0018"/><circle cx="368.3" cy="206.8" r="1.35" fill="#f2ee10"/><circle cx="124.4" cy="156.6" r="1.35" fill="#dc0018"/><circle cx="520" cy="103" r="1.35" fill="#dc0018"/><circle cx="118.1" cy="151.3" r="1.35" fill="#18e8e8"/><circle cx="334.5" cy="217.1" r="1.35" fill="#0000c0"/><circle cx="327" cy="180" r="1.35" fill="#dc0018"/><circle cx="334" cy="224.8" r="1.35" fill="#eaa020"/><circle cx="366.7" cy="194.4" r="1.35" fill="#0000c0"/><circle cx="520" cy="106" r="1.35" fill="#dc0018"/><circle cx="233" cy="130" r="1.35" fill="#f2ee10"/><circle cx="490" cy="143" r="1.35" fill="#dc0018"/><circle cx="118" cy="111" r="1.35" fill="#0000c0"/><circle cx="484" cy="216" r="1.35" fill="#f2ee10"/><circle cx="331" cy="142" r="1.35" fill="#18e8e8"/><circle cx="370" cy="137" r="1.35" fill="#18e8e8"/><circle cx="489" cy="151" r="1.35" fill="#dc0018"/><circle cx="448" cy="169" r="1.35" fill="#eaa020"/><circle cx="119.8" cy="161.6" r="1.35" fill="#f2ee10"/><circle cx="368.5" cy="215.2" r="1.35" fill="#f2ee10"/><circle cx="367.8" cy="212.5" r="1.35" fill="#dc0018"/><circle cx="122" cy="107.6" r="1.35" fill="#0000c0"/><circle cx="81" cy="203.4" r="1.35" fill="#f2ee10"/><circle cx="335" cy="162" r="1.35" fill="#18e8e8"/><circle cx="329.7" cy="201.7" r="1.35" fill="#f2ee10"/><circle cx="369" cy="206.8" r="1.35" fill="#18e8e8"/><circle cx="205" cy="100" r="1.35" fill="#0a6e0a"/><circle cx="449" cy="178" r="1.35" fill="#eaa020"/><circle cx="331" cy="150" r="1.35" fill="#0000c0"/><circle cx="377.2" cy="191.1" r="1.35" fill="#dc0018"/><circle cx="520" cy="143" r="1.35" fill="#eaa020"/><circle cx="373" cy="236.5" r="1.35" fill="#0000c0"/><circle cx="331.6" cy="187.5" r="1.35" fill="#f2ee10"/><circle cx="225.5" cy="123.5" r="1.35" fill="#f2ee10"/><circle cx="333.8" cy="217.9" r="1.35" fill="#18e8e8"/><circle cx="330" cy="152" r="1.35" fill="#18e8e8"/><circle cx="203" cy="110.5" r="1.35" fill="#0a6e0a"/><circle cx="448" cy="206" r="1.35" fill="#f2ee10"/><circle cx="519.5" cy="101" r="1.35" fill="#dc0018"/><circle cx="368.5" cy="187" r="1.35" fill="#f2ee10"/><circle cx="367.9" cy="207.4" r="1.35" fill="#f2ee10"/><circle cx="376.2" cy="184.7" r="1.35" fill="#eaa020"/><circle cx="230" cy="136.9" r="1.35" fill="#f2ee10"/><circle cx="159" cy="272.5" r="1.35" fill="#18e8e8"/><circle cx="81.2" cy="213.9" r="1.35" fill="#f2ee10"/><circle cx="116.4" cy="144.1" r="1.35" fill="#f2ee10"/><circle cx="331" cy="233" r="1.35" fill="#18e8e8"/><circle cx="122" cy="105" r="1.35" fill="#0000c0"/><circle cx="120.4" cy="192.1" r="1.35" fill="#18e8e8"/><circle cx="366" cy="215.2" r="1.35" fill="#0000c0"/><circle cx="334.2" cy="239.1" r="1.35" fill="#0000c0"/><circle cx="333" cy="213.2" r="1.35" fill="#0000c0"/><circle cx="370" cy="163" r="1.35" fill="#18e8e8"/><circle cx="372.5" cy="147.1" r="1.35" fill="#18e8e8"/><circle cx="71" cy="120" r="1.35" fill="#0000c0"/><circle cx="78.6" cy="219.5" r="1.35" fill="#dc0018"/><circle cx="374.6" cy="153.5" r="1.35" fill="#0000c0"/><circle cx="239" cy="115" r="1.35" fill="#dc0018"/><circle cx="81.5" cy="203.3" r="1.35" fill="#dc0018"/><circle cx="328.7" cy="257" r="1.35" fill="#18e8e8"/><circle cx="369" cy="192.4" r="1.35" fill="#18e8e8"/><circle cx="120.3" cy="176.3" r="1.35" fill="#dc0018"/><circle cx="75" cy="175" r="1.35" fill="#0000c0"/><circle cx="411" cy="135" r="1.35" fill="#dc0018"/><circle cx="82" cy="224.4" r="1.35" fill="#f2ee10"/><circle cx="120" cy="233" r="1.35" fill="#18e8e8"/><circle cx="164" cy="140" r="1.35" fill="#f2ee10"/><circle cx="487" cy="158" r="1.35" fill="#eaa020"/><circle cx="329" cy="223.2" r="1.35" fill="#0000c0"/><circle cx="445" cy="173" r="1.35" fill="#dc0018"/><circle cx="413" cy="194" r="1.35" fill="#0000c0"/><circle cx="322" cy="231" r="1.35" fill="#dc0018"/><circle cx="519" cy="168" r="1.35" fill="#eaa020"/><circle cx="242" cy="111" r="1.35" fill="#eaa020"/><circle cx="333.6" cy="164.9" r="1.35" fill="#f2ee10"/><circle cx="156" cy="122" r="1.35" fill="#18e8e8"/><circle cx="122.2" cy="147.5" r="1.35" fill="#18e8e8"/><circle cx="164" cy="104" r="1.35" fill="#0000c0"/><circle cx="78.8" cy="152.7" r="1.35" fill="#18e8e8"/><circle cx="371.1" cy="210.5" r="1.35" fill="#18e8e8"/><circle cx="405" cy="198" r="1.35" fill="#eaa020"/><circle cx="116.5" cy="193.9" r="1.35" fill="#0a6e0a"/><circle cx="118.7" cy="172.2" r="1.35" fill="#18e8e8"/><circle cx="163" cy="149" r="1.35" fill="#18e8e8"/><circle cx="329" cy="183" r="1.35" fill="#18e8e8"/><circle cx="117.9" cy="108.1" r="1.35" fill="#0000c0"/><circle cx="122" cy="212" r="1.35" fill="#0a6e0a"/><circle cx="407" cy="159" r="1.35" fill="#dc0018"/><circle cx="119" cy="103" r="1.35" fill="#0000c0"/><circle cx="406" cy="148" r="1.35" fill="#dc0018"/><circle cx="446" cy="175" r="1.35" fill="#dc0018"/><circle cx="81.8" cy="202.1" r="1.35" fill="#f2ee10"/><circle cx="205" cy="143" r="1.35" fill="#dc0018"/><circle cx="409" cy="163" r="1.35" fill="#0a6e0a"/><circle cx="234" cy="99" r="1.35" fill="#f2ee10"/><circle cx="229" cy="119" r="1.35" fill="#0a6e0a"/><circle cx="367" cy="234" r="1.35" fill="#f2ee10"/><circle cx="83" cy="125" r="1.35" fill="#18e8e8"/><circle cx="85.1" cy="190.2" r="1.35" fill="#0a6e0a"/><circle cx="370.9" cy="206.5" r="1.35" fill="#18e8e8"/><circle cx="446" cy="171" r="1.35" fill="#dc0018"/><circle cx="112.4" cy="176.4" r="1.35" fill="#dc0018"/><circle cx="485" cy="209" r="1.35" fill="#f2ee10"/><circle cx="112.5" cy="182" r="1.35" fill="#0a6e0a"/><circle cx="484" cy="150" r="1.35" fill="#dc0018"/><circle cx="123" cy="210" r="1.35" fill="#0a6e0a"/><circle cx="83.3" cy="199" r="1.35" fill="#eaa020"/><circle cx="405.3" cy="156.2" r="1.35" fill="#dc0018"/><circle cx="409" cy="146" r="1.35" fill="#dc0018"/><circle cx="414" cy="198" r="1.35" fill="#0000c0"/><circle cx="414" cy="177.5" r="1.35" fill="#f2ee10"/><circle cx="486.5" cy="126" r="1.35" fill="#dc0018"/><circle cx="372" cy="257" r="1.35" fill="#18e8e8"/><circle cx="85.6" cy="209.8" r="1.35" fill="#f2ee10"/><circle cx="118.6" cy="164.8" r="1.35" fill="#18e8e8"/><circle cx="486" cy="192" r="1.35" fill="#f2ee10"/><circle cx="328.8" cy="190.1" r="1.35" fill="#18e8e8"/><circle cx="205" cy="77" r="1.35" fill="#f2ee10"/><circle cx="370" cy="238.5" r="1.35" fill="#0a6e0a"/><circle cx="369.4" cy="192" r="1.35" fill="#18e8e8"/><circle cx="120" cy="138.6" r="1.35" fill="#18e8e8"/><circle cx="82.6" cy="183.9" r="1.35" fill="#0a6e0a"/><circle cx="487" cy="204" r="1.35" fill="#f2ee10"/><circle cx="371" cy="133" r="1.35" fill="#0000c0"/><circle cx="82.5" cy="264.5" r="1.35" fill="#f2ee10"/><circle cx="371.5" cy="171.9" r="1.35" fill="#18e8e8"/><circle cx="372" cy="252" r="1.35" fill="#0000c0"/><circle cx="114" cy="166.2" r="1.35" fill="#dc0018"/><circle cx="129.1" cy="154.1" r="1.35" fill="#eaa020"/><circle cx="368.6" cy="218.2" r="1.35" fill="#f2ee10"/><circle cx="203.5" cy="68.5" r="1.35" fill="#0a6e0a"/><circle cx="327.4" cy="227.7" r="1.35" fill="#0000c0"/><circle cx="417" cy="139" r="1.35" fill="#eaa020"/><circle cx="238" cy="113" r="1.35" fill="#dc0018"/><circle cx="128.6" cy="159.4" r="1.35" fill="#eaa020"/><circle cx="366.6" cy="226.8" r="1.35" fill="#dc0018"/><circle cx="125.9" cy="171.3" r="1.35" fill="#18e8e8"/><circle cx="76.8" cy="206.7" r="1.35" fill="#0a6e0a"/><circle cx="520" cy="240" r="1.35" fill="#f2ee10"/><circle cx="116.7" cy="156.8" r="1.35" fill="#f2ee10"/><circle cx="230" cy="133" r="1.35" fill="#f2ee10"/><circle cx="83.2" cy="197.1" r="1.35" fill="#0a6e0a"/><circle cx="410" cy="254" r="1.35" fill="#0000c0"/><circle cx="371.3" cy="193.8" r="1.35" fill="#18e8e8"/><circle cx="367.9" cy="225.2" r="1.35" fill="#dc0018"/><circle cx="519.5" cy="233" r="1.35" fill="#f2ee10"/><circle cx="116.6" cy="172.8" r="1.35" fill="#f2ee10"/><circle cx="162" cy="171" r="1.35" fill="#0a6e0a"/><circle cx="81.7" cy="229.7" r="1.35" fill="#f2ee10"/><circle cx="332" cy="167" r="1.35" fill="#0000c0"/><circle cx="447" cy="152" r="1.35" fill="#f2ee10"/><circle cx="119.2" cy="154.3" r="1.35" fill="#f2ee10"/><circle cx="405.9" cy="152.2" r="1.35" fill="#dc0018"/><circle cx="331" cy="185" r="1.35" fill="#f2ee10"/><circle cx="78.6" cy="224.6" r="1.35" fill="#f2ee10"/><circle cx="376" cy="229" r="1.35" fill="#dc0018"/><circle cx="333.4" cy="184.4" r="1.35" fill="#f2ee10"/><circle cx="447" cy="163" r="1.35" fill="#eaa020"/><circle cx="335.5" cy="239.3" r="1.35" fill="#0000c0"/><circle cx="375" cy="149" r="1.35" fill="#f2ee10"/><circle cx="328.2" cy="245.8" r="1.35" fill="#18e8e8"/><circle cx="368.8" cy="199" r="1.35" fill="#f2ee10"/><circle cx="199.9" cy="143.6" r="1.35" fill="#dc0018"/><circle cx="410" cy="239" r="1.35" fill="#f2ee10"/><circle cx="369" cy="185.7" r="1.35" fill="#18e8e8"/><circle cx="414" cy="140" r="1.35" fill="#eaa020"/><circle cx="161.7" cy="159" r="1.35" fill="#dc0018"/><circle cx="410" cy="207" r="1.35" fill="#0000c0"/><circle cx="374" cy="239.5" r="1.35" fill="#0000c0"/><circle cx="113" cy="101" r="1.35" fill="#0000c0"/><circle cx="415" cy="255" r="1.35" fill="#18e8e8"/><circle cx="368.4" cy="196.9" r="1.35" fill="#0000c0"/><circle cx="192" cy="104" r="1.35" fill="#18e8e8"/><circle cx="371.5" cy="262.5" r="1.35" fill="#0a6e0a"/><circle cx="405" cy="157" r="1.35" fill="#dc0018"/><circle cx="329.8" cy="233.9" r="1.35" fill="#18e8e8"/><circle cx="199" cy="139" r="1.35" fill="#eaa020"/><circle cx="331.3" cy="213.5" r="1.35" fill="#0000c0"/><circle cx="481" cy="134" r="1.35" fill="#dc0018"/><circle cx="411" cy="244" r="1.35" fill="#f2ee10"/><circle cx="330" cy="170" r="1.35" fill="#f2ee10"/><circle cx="80" cy="240" r="1.35" fill="#f2ee10"/><circle cx="370.3" cy="200" r="1.35" fill="#18e8e8"/><circle cx="234" cy="116" r="1.35" fill="#0a6e0a"/><circle cx="444" cy="163" r="1.35" fill="#dc0018"/><circle cx="369.3" cy="187.4" r="1.35" fill="#0a6e0a"/><circle cx="80" cy="118" r="1.35" fill="#18e8e8"/><circle cx="481.5" cy="117" r="1.35" fill="#dc0018"/><circle cx="201" cy="76.5" r="1.35" fill="#0a6e0a"/><circle cx="82" cy="156.6" r="1.35" fill="#18e8e8"/><circle cx="489" cy="157" r="1.35" fill="#dc0018"/><circle cx="410" cy="253" r="1.35" fill="#0a6e0a"/><circle cx="335.2" cy="245.3" r="1.35" fill="#0000c0"/><circle cx="202.5" cy="67" r="1.35" fill="#0a6e0a"/><circle cx="451" cy="193" r="1.35" fill="#dc0018"/><circle cx="367" cy="210.9" r="1.35" fill="#f2ee10"/><circle cx="119" cy="138" r="1.35" fill="#0a6e0a"/><circle cx="323" cy="205.4" r="1.35" fill="#dc0018"/><circle cx="408" cy="174" r="1.35" fill="#eaa020"/><circle cx="410" cy="199" r="1.35" fill="#0a6e0a"/><circle cx="86" cy="184.2" r="1.35" fill="#0a6e0a"/><circle cx="202" cy="95" r="1.35" fill="#0a6e0a"/><circle cx="126" cy="141" r="1.35" fill="#0a6e0a"/><circle cx="85.7" cy="210.9" r="1.35" fill="#f2ee10"/><circle cx="162" cy="132" r="1.35" fill="#18e8e8"/><circle cx="376.2" cy="194.9" r="1.35" fill="#dc0018"/><circle cx="85.7" cy="219.7" r="1.35" fill="#f2ee10"/><circle cx="329.8" cy="221.4" r="1.35" fill="#f2ee10"/><circle cx="159" cy="156.4" r="1.35" fill="#dc0018"/><circle cx="166" cy="104" r="1.35" fill="#0000c0"/><circle cx="447" cy="161" r="1.35" fill="#f2ee10"/><circle cx="88" cy="232" r="1.35" fill="#f2ee10"/><circle cx="409" cy="226" r="1.35" fill="#0a6e0a"/><circle cx="235.5" cy="74" r="1.35" fill="#0a6e0a"/><circle cx="117.1" cy="162.6" r="1.35" fill="#f2ee10"/><circle cx="329.1" cy="209.1" r="1.35" fill="#0a6e0a"/><circle cx="372" cy="179.5" r="1.35" fill="#18e8e8"/><circle cx="320.2" cy="205" r="1.35" fill="#dc0018"/><circle cx="192" cy="93" r="1.35" fill="#18e8e8"/><circle cx="518" cy="161" r="1.35" fill="#eaa020"/><circle cx="79" cy="204.9" r="1.35" fill="#f2ee10"/><circle cx="119" cy="116" r="1.35" fill="#0000c0"/><circle cx="161" cy="164" r="1.35" fill="#0a6e0a"/><circle cx="327.4" cy="207" r="1.35" fill="#dc0018"/><circle cx="373" cy="187.6" r="1.35" fill="#18e8e8"/><circle cx="200" cy="95" r="1.35" fill="#0a6e0a"/><circle cx="408" cy="200" r="1.35" fill="#0000c0"/><circle cx="333.1" cy="219.1" r="1.35" fill="#f2ee10"/><circle cx="445" cy="174" r="1.35" fill="#dc0018"/><circle cx="409" cy="172" r="1.35" fill="#dc0018"/><circle cx="228" cy="129.7" r="1.35" fill="#f2ee10"/><circle cx="519" cy="145" r="1.35" fill="#eaa020"/><circle cx="198" cy="133" r="1.35" fill="#eaa020"/><circle cx="123.8" cy="170.3" r="1.35" fill="#dc0018"/><circle cx="334.2" cy="227.9" r="1.35" fill="#0a6e0a"/><circle cx="206" cy="156" r="1.35" fill="#dc0018"/><circle cx="446" cy="167" r="1.35" fill="#f2ee10"/><circle cx="410" cy="132" r="1.35" fill="#eaa020"/><circle cx="125.5" cy="148.4" r="1.35" fill="#18e8e8"/><circle cx="73" cy="134" r="1.35" fill="#0000c0"/><circle cx="321.2" cy="235.6" r="1.35" fill="#dc0018"/><circle cx="453" cy="137.5" r="1.35" fill="#dc0018"/><circle cx="408" cy="145" r="1.35" fill="#dc0018"/><circle cx="413" cy="200" r="1.35" fill="#f2ee10"/><circle cx="83.2" cy="210.7" r="1.35" fill="#eaa020"/><circle cx="79.5" cy="193.1" r="1.35" fill="#0a6e0a"/><circle cx="88.6" cy="203.5" r="1.35" fill="#eaa020"/><circle cx="81.5" cy="143" r="1.35" fill="#18e8e8"/><circle cx="324.5" cy="257.5" r="1.35" fill="#0a6e0a"/><circle cx="335.1" cy="248.8" r="1.35" fill="#0000c0"/><circle cx="329.4" cy="201.6" r="1.35" fill="#f2ee10"/><circle cx="335.4" cy="178.6" r="1.35" fill="#18e8e8"/><circle cx="365.1" cy="205.7" r="1.35" fill="#0000c0"/><circle cx="235" cy="121" r="1.35" fill="#dc0018"/><circle cx="332" cy="201.8" r="1.35" fill="#0a6e0a"/><circle cx="112.5" cy="200" r="1.35" fill="#0a6e0a"/><circle cx="156" cy="135" r="1.35" fill="#0a6e0a"/><circle cx="75.5" cy="163" r="1.35" fill="#0000c0"/><circle cx="452" cy="172" r="1.35" fill="#eaa020"/><circle cx="80" cy="132" r="1.35" fill="#18e8e8"/><circle cx="201" cy="150" r="1.35" fill="#dc0018"/><circle cx="323.4" cy="199.7" r="1.35" fill="#f2ee10"/><circle cx="402.5" cy="180" r="1.35" fill="#0000c0"/><circle cx="376" cy="211.2" r="1.35" fill="#0a6e0a"/><circle cx="329" cy="265.1" r="1.35" fill="#18e8e8"/><circle cx="523" cy="137" r="1.35" fill="#dc0018"/><circle cx="482" cy="138" r="1.35" fill="#dc0018"/><circle cx="81.5" cy="250" r="1.35" fill="#f2ee10"/><circle cx="331.7" cy="222.7" r="1.35" fill="#0000c0"/><circle cx="409" cy="137" r="1.35" fill="#dc0018"/><circle cx="367.4" cy="148.2" r="1.35" fill="#0000c0"/><circle cx="333.2" cy="202.2" r="1.35" fill="#18e8e8"/><circle cx="116.3" cy="139.1" r="1.35" fill="#f2ee10"/><circle cx="128" cy="175.4" r="1.35" fill="#0a6e0a"/><circle cx="85.1" cy="214.9" r="1.35" fill="#dc0018"/><circle cx="118" cy="145.7" r="1.35" fill="#f2ee10"/><circle cx="370" cy="141" r="1.35" fill="#18e8e8"/><circle cx="518" cy="163" r="1.35" fill="#eaa020"/><circle cx="369.6" cy="199.8" r="1.35" fill="#dc0018"/><circle cx="489" cy="139" r="1.35" fill="#dc0018"/><circle cx="82.9" cy="117.2" r="1.35" fill="#18e8e8"/><circle cx="481" cy="213" r="1.35" fill="#f2ee10"/><circle cx="166" cy="102.5" r="1.35" fill="#0000c0"/><circle cx="199" cy="152" r="1.35" fill="#dc0018"/><circle cx="71.5" cy="129" r="1.35" fill="#0000c0"/><circle cx="233" cy="118" r="1.35" fill="#dc0018"/><circle cx="154.5" cy="115.5" r="1.35" fill="#0000c0"/><circle cx="193" cy="103" r="1.35" fill="#18e8e8"/><circle cx="118.6" cy="147.6" r="1.35" fill="#18e8e8"/><circle cx="113.5" cy="93" r="1.35" fill="#0000c0"/><circle cx="124.1" cy="149.6" r="1.35" fill="#18e8e8"/><circle cx="372" cy="214" r="1.35" fill="#18e8e8"/><circle cx="369.2" cy="184.3" r="1.35" fill="#18e8e8"/><circle cx="372" cy="149.5" r="1.35" fill="#18e8e8"/><circle cx="78.6" cy="213.6" r="1.35" fill="#f2ee10"/><circle cx="520" cy="112" r="1.35" fill="#dc0018"/><circle cx="118.5" cy="154.8" r="1.35" fill="#f2ee10"/><circle cx="330" cy="232.8" r="1.35" fill="#18e8e8"/><circle cx="365.8" cy="158.8" r="1.35" fill="#f2ee10"/><circle cx="367.5" cy="145" r="1.35" fill="#0000c0"/><circle cx="519" cy="213" r="1.35" fill="#f2ee10"/><circle cx="120" cy="222" r="1.35" fill="#dc0018"/><circle cx="451" cy="219" r="1.35" fill="#f2ee10"/><circle cx="409" cy="219" r="1.35" fill="#f2ee10"/><circle cx="409" cy="224" r="1.35" fill="#f2ee10"/><circle cx="86.1" cy="180" r="1.35" fill="#eaa020"/><circle cx="123.1" cy="167.5" r="1.35" fill="#f2ee10"/><circle cx="450" cy="174" r="1.35" fill="#dc0018"/><circle cx="444" cy="141" r="1.35" fill="#dc0018"/><circle cx="373" cy="134" r="1.35" fill="#0000c0"/><circle cx="369.9" cy="188" r="1.35" fill="#18e8e8"/><circle cx="520.5" cy="149" r="1.35" fill="#dc0018"/><circle cx="372" cy="245" r="1.35" fill="#0a6e0a"/><circle cx="115" cy="220" r="1.35" fill="#0a6e0a"/><circle cx="373.6" cy="197.5" r="1.35" fill="#f2ee10"/><circle cx="84.4" cy="186.8" r="1.35" fill="#0a6e0a"/><circle cx="232.5" cy="176" r="1.35" fill="#0a6e0a"/><circle cx="82" cy="130" r="1.35" fill="#18e8e8"/><circle cx="328.8" cy="216.4" r="1.35" fill="#18e8e8"/><circle cx="120.3" cy="141.5" r="1.35" fill="#0a6e0a"/><circle cx="123.9" cy="145" r="1.35" fill="#f2ee10"/><circle cx="78.3" cy="225.9" r="1.35" fill="#f2ee10"/><circle cx="81.5" cy="215.6" r="1.35" fill="#f2ee10"/><circle cx="229" cy="131" r="1.35" fill="#f2ee10"/><circle cx="79.3" cy="221.2" r="1.35" fill="#f2ee10"/><circle cx="330" cy="244" r="1.35" fill="#0000c0"/><circle cx="121.4" cy="174.5" r="1.35" fill="#18e8e8"/><circle cx="331.5" cy="269.4" r="1.35" fill="#0000c0"/><circle cx="519.5" cy="95" r="1.35" fill="#dc0018"/><circle cx="197" cy="142" r="1.35" fill="#eaa020"/><circle cx="369.2" cy="210" r="1.35" fill="#18e8e8"/><circle cx="333.8" cy="213.1" r="1.35" fill="#0000c0"/><circle cx="415" cy="242" r="1.35" fill="#18e8e8"/><circle cx="373.4" cy="205.9" r="1.35" fill="#0000c0"/><circle cx="84.8" cy="183.6" r="1.35" fill="#0a6e0a"/><circle cx="204" cy="155" r="1.35" fill="#dc0018"/><circle cx="160.6" cy="131.2" r="1.35" fill="#f2ee10"/><circle cx="326.2" cy="179.2" r="1.35" fill="#dc0018"/><circle cx="126.4" cy="167.1" r="1.35" fill="#dc0018"/><circle cx="413" cy="204" r="1.35" fill="#f2ee10"/><circle cx="114.2" cy="169.3" r="1.35" fill="#dc0018"/><circle cx="334.3" cy="213.7" r="1.35" fill="#dc0018"/><circle cx="119.5" cy="157" r="1.35" fill="#18e8e8"/><circle cx="372.3" cy="158.6" r="1.35" fill="#18e8e8"/><circle cx="124.6" cy="148.3" r="1.35" fill="#18e8e8"/><circle cx="85.4" cy="231.6" r="1.35" fill="#f2ee10"/><circle cx="326.4" cy="180" r="1.35" fill="#18e8e8"/><circle cx="238" cy="95" r="1.35" fill="#eaa020"/><circle cx="411" cy="240" r="1.35" fill="#f2ee10"/><circle cx="335.1" cy="196.2" r="1.35" fill="#dc0018"/><circle cx="85.1" cy="225.2" r="1.35" fill="#f2ee10"/><circle cx="231" cy="137" r="1.35" fill="#f2ee10"/><circle cx="83.8" cy="213.7" r="1.35" fill="#f2ee10"/><circle cx="323" cy="226.1" r="1.35" fill="#f2ee10"/><circle cx="487" cy="180" r="1.35" fill="#f2ee10"/><circle cx="83.5" cy="114" r="1.35" fill="#18e8e8"/><circle cx="329" cy="118" r="1.35" fill="#18e8e8"/><circle cx="376" cy="180.5" r="1.35" fill="#eaa020"/><circle cx="327.1" cy="169.8" r="1.35" fill="#f2ee10"/><circle cx="367.2" cy="205.8" r="1.35" fill="#0000c0"/><circle cx="128.6" cy="150.2" r="1.35" fill="#eaa020"/><circle cx="207" cy="147" r="1.35" fill="#dc0018"/><circle cx="227" cy="145" r="1.35" fill="#0a6e0a"/><circle cx="491" cy="179.5" r="1.35" fill="#dc0018"/><circle cx="76.6" cy="210" r="1.35" fill="#dc0018"/><circle cx="330" cy="230" r="1.35" fill="#18e8e8"/><circle cx="406" cy="132" r="1.35" fill="#dc0018"/><circle cx="127.7" cy="174.4" r="1.35" fill="#dc0018"/><circle cx="367.1" cy="222.2" r="1.35" fill="#0000c0"/><circle cx="490" cy="129.5" r="1.35" fill="#dc0018"/><circle cx="324.7" cy="233.4" r="1.35" fill="#f2ee10"/><circle cx="124" cy="192" r="1.35" fill="#18e8e8"/><circle cx="415" cy="126" r="1.35" fill="#eaa020"/><circle cx="237" cy="119" r="1.35" fill="#dc0018"/><circle cx="194" cy="99" r="1.35" fill="#18e8e8"/><circle cx="329.1" cy="198.9" r="1.35" fill="#eaa020"/><circle cx="124.7" cy="177.3" r="1.35" fill="#dc0018"/><circle cx="328.2" cy="172.6" r="1.35" fill="#0000c0"/><circle cx="207" cy="93" r="1.35" fill="#f2ee10"/><circle cx="368.9" cy="203.4" r="1.35" fill="#f2ee10"/><circle cx="328.9" cy="248.4" r="1.35" fill="#0000c0"/><circle cx="327" cy="233" r="1.35" fill="#f2ee10"/><circle cx="192" cy="113" r="1.35" fill="#18e8e8"/><circle cx="374" cy="238" r="1.35" fill="#0000c0"/><circle cx="201" cy="149" r="1.35" fill="#dc0018"/><circle cx="190.5" cy="119" r="1.35" fill="#18e8e8"/><circle cx="481" cy="230" r="1.35" fill="#f2ee10"/><circle cx="372.5" cy="201.4" r="1.35" fill="#0000c0"/><circle cx="371" cy="254" r="1.35" fill="#18e8e8"/><circle cx="123" cy="206" r="1.35" fill="#18e8e8"/><circle cx="79.2" cy="217.5" r="1.35" fill="#f2ee10"/><circle cx="164.5" cy="112.5" r="1.35" fill="#0000c0"/><circle cx="372" cy="178.6" r="1.35" fill="#18e8e8"/><circle cx="155" cy="153" r="1.35" fill="#0a6e0a"/><circle cx="202" cy="141" r="1.35" fill="#dc0018"/><circle cx="444" cy="153" r="1.35" fill="#dc0018"/><circle cx="406.8" cy="130.3" r="1.35" fill="#dc0018"/><circle cx="453" cy="160" r="1.35" fill="#dc0018"/><circle cx="202" cy="154" r="1.35" fill="#dc0018"/><circle cx="366.7" cy="217.2" r="1.35" fill="#0000c0"/><circle cx="328" cy="201.9" r="1.35" fill="#dc0018"/><circle cx="163.1" cy="142.2" r="1.35" fill="#dc0018"/><circle cx="369.2" cy="180.7" r="1.35" fill="#0000c0"/><circle cx="119.8" cy="158.1" r="1.35" fill="#0a6e0a"/><circle cx="114" cy="148.1" r="1.35" fill="#dc0018"/><circle cx="196" cy="110" r="1.35" fill="#f2ee10"/><circle cx="366.7" cy="210.6" r="1.35" fill="#dc0018"/><circle cx="194" cy="91" r="1.35" fill="#18e8e8"/><circle cx="336.9" cy="201.8" r="1.35" fill="#dc0018"/><circle cx="114" cy="105" r="1.35" fill="#0000c0"/><circle cx="401" cy="198" r="1.35" fill="#0000c0"/><circle cx="325.8" cy="197.1" r="1.35" fill="#dc0018"/><circle cx="491.5" cy="207" r="1.35" fill="#dc0018"/><circle cx="79.9" cy="267.3" r="1.35" fill="#0000c0"/><circle cx="84.5" cy="202.7" r="1.35" fill="#f2ee10"/><circle cx="410" cy="268.5" r="1.35" fill="#f2ee10"/><circle cx="410" cy="126" r="1.35" fill="#eaa020"/><circle cx="82.3" cy="228.7" r="1.35" fill="#f2ee10"/><circle cx="113" cy="96.5" r="1.35" fill="#0000c0"/><circle cx="203" cy="146" r="1.35" fill="#dc0018"/><circle cx="78.5" cy="111.5" r="1.35" fill="#18e8e8"/><circle cx="229.4" cy="138.6" r="1.35" fill="#f2ee10"/><circle cx="407" cy="155" r="1.35" fill="#dc0018"/><circle cx="165.5" cy="111" r="1.35" fill="#18e8e8"/><circle cx="237" cy="116" r="1.35" fill="#dc0018"/><circle cx="369.9" cy="211.2" r="1.35" fill="#f2ee10"/><circle cx="126" cy="126" r="1.35" fill="#0a6e0a"/><circle cx="227" cy="135" r="1.35" fill="#f2ee10"/><circle cx="328.8" cy="221.2" r="1.35" fill="#0a6e0a"/><circle cx="232.5" cy="158" r="1.35" fill="#0a6e0a"/><circle cx="196" cy="171" r="1.35" fill="#eaa020"/><circle cx="334.6" cy="196" r="1.35" fill="#dc0018"/><circle cx="481" cy="153" r="1.35" fill="#dc0018"/><circle cx="160.5" cy="143.8" r="1.35" fill="#dc0018"/><circle cx="457" cy="153" r="1.35" fill="#eaa020"/><circle cx="413" cy="120" r="1.35" fill="#eaa020"/><circle cx="160" cy="169" r="1.35" fill="#18e8e8"/><circle cx="156" cy="163" r="1.35" fill="#0a6e0a"/><circle cx="372.5" cy="186" r="1.35" fill="#18e8e8"/><circle cx="329.6" cy="202.3" r="1.35" fill="#18e8e8"/><circle cx="119.1" cy="181.5" r="1.35" fill="#dc0018"/><circle cx="239" cy="131" r="1.35" fill="#dc0018"/><circle cx="113" cy="185" r="1.35" fill="#0a6e0a"/><circle cx="75" cy="160" r="1.35" fill="#0000c0"/><circle cx="324.1" cy="211.4" r="1.35" fill="#f2ee10"/><circle cx="84.4" cy="204.4" r="1.35" fill="#f2ee10"/><circle cx="166" cy="155" r="1.35" fill="#f2ee10"/><circle cx="124.7" cy="143.5" r="1.35" fill="#18e8e8"/><circle cx="368.9" cy="193.5" r="1.35" fill="#f2ee10"/><circle cx="163" cy="130" r="1.35" fill="#18e8e8"/><circle cx="328.3" cy="183.2" r="1.35" fill="#18e8e8"/><circle cx="330" cy="251" r="1.35" fill="#18e8e8"/><circle cx="521" cy="159" r="1.35" fill="#f2ee10"/><circle cx="375.6" cy="187.3" r="1.35" fill="#0000c0"/><circle cx="121.5" cy="170.6" r="1.35" fill="#f2ee10"/><circle cx="369.9" cy="153.6" r="1.35" fill="#18e8e8"/><circle cx="329.9" cy="162" r="1.35" fill="#eaa020"/><circle cx="519.5" cy="123" r="1.35" fill="#dc0018"/><circle cx="197" cy="150" r="1.35" fill="#dc0018"/><circle cx="406" cy="168" r="1.35" fill="#18e8e8"/><circle cx="404" cy="154" r="1.35" fill="#dc0018"/><circle cx="154.5" cy="107" r="1.35" fill="#0000c0"/><circle cx="332.1" cy="268.7" r="1.35" fill="#18e8e8"/><circle cx="70.5" cy="125" r="1.35" fill="#0000c0"/><circle cx="486" cy="170" r="1.35" fill="#eaa020"/><circle cx="124" cy="112" r="1.35" fill="#0000c0"/><circle cx="412" cy="139" r="1.35" fill="#eaa020"/><circle cx="448" cy="148" r="1.35" fill="#f2ee10"/><circle cx="199" cy="131" r="1.35" fill="#eaa020"/><circle cx="367" cy="206.8" r="1.35" fill="#f2ee10"/><circle cx="407.5" cy="128" r="1.35" fill="#dc0018"/><circle cx="120" cy="109" r="1.35" fill="#0000c0"/><circle cx="519" cy="265" r="1.35" fill="#f2ee10"/><circle cx="205.5" cy="149.4" r="1.35" fill="#dc0018"/><circle cx="365.5" cy="224.9" r="1.35" fill="#f2ee10"/><circle cx="201" cy="104.5" r="1.35" fill="#0a6e0a"/><circle cx="74" cy="151" r="1.35" fill="#0000c0"/><circle cx="161" cy="106" r="1.35" fill="#0000c0"/><circle cx="448" cy="188" r="1.35" fill="#dc0018"/><circle cx="79.3" cy="192.4" r="1.35" fill="#0a6e0a"/><circle cx="332.9" cy="194.3" r="1.35" fill="#dc0018"/><circle cx="449" cy="170" r="1.35" fill="#f2ee10"/><circle cx="190.5" cy="111" r="1.35" fill="#18e8e8"/><circle cx="155.5" cy="130" r="1.35" fill="#0a6e0a"/><circle cx="371.8" cy="207.7" r="1.35" fill="#18e8e8"/><circle cx="124" cy="133" r="1.35" fill="#18e8e8"/><circle cx="75" cy="147.5" r="1.35" fill="#0000c0"/><circle cx="520.5" cy="107" r="1.35" fill="#dc0018"/><circle cx="331" cy="228" r="1.35" fill="#0000c0"/><circle cx="371" cy="228" r="1.35" fill="#0a6e0a"/><circle cx="329" cy="259" r="1.35" fill="#0000c0"/><circle cx="76" cy="168" r="1.35" fill="#0000c0"/><circle cx="77" cy="225" r="1.35" fill="#f2ee10"/><circle cx="319.3" cy="211" r="1.35" fill="#dc0018"/><circle cx="160" cy="164" r="1.35" fill="#dc0018"/><circle cx="365.8" cy="182" r="1.35" fill="#f2ee10"/><circle cx="83.5" cy="216.5" r="1.35" fill="#f2ee10"/><circle cx="80.5" cy="128" r="1.35" fill="#18e8e8"/><circle cx="76" cy="124" r="1.35" fill="#0000c0"/><circle cx="484" cy="136" r="1.35" fill="#dc0018"/><circle cx="333.2" cy="193.4" r="1.35" fill="#f2ee10"/><circle cx="329.5" cy="96" r="1.35" fill="#18e8e8"/><circle cx="82" cy="238" r="1.35" fill="#f2ee10"/><circle cx="117" cy="103" r="1.35" fill="#0000c0"/><circle cx="75.4" cy="215.9" r="1.35" fill="#dc0018"/><circle cx="196" cy="160" r="1.35" fill="#18e8e8"/><circle cx="83.5" cy="203" r="1.35" fill="#f2ee10"/><circle cx="365" cy="196.5" r="1.35" fill="#0000c0"/><circle cx="324.7" cy="183.2" r="1.35" fill="#dc0018"/><circle cx="412" cy="157" r="1.35" fill="#eaa020"/><circle cx="369.4" cy="148.1" r="1.35" fill="#f2ee10"/><circle cx="366.3" cy="179.9" r="1.35" fill="#0000c0"/><circle cx="414" cy="245" r="1.35" fill="#18e8e8"/><circle cx="166" cy="124.5" r="1.35" fill="#0000c0"/><circle cx="207" cy="85" r="1.35" fill="#f2ee10"/><circle cx="117" cy="205" r="1.35" fill="#18e8e8"/><circle cx="449" cy="165" r="1.35" fill="#eaa020"/><circle cx="160" cy="147" r="1.35" fill="#dc0018"/><circle cx="367.1" cy="164.7" r="1.35" fill="#f2ee10"/><circle cx="194" cy="135" r="1.35" fill="#f2ee10"/><circle cx="238" cy="102" r="1.35" fill="#eaa020"/><circle cx="161" cy="176" r="1.35" fill="#0a6e0a"/><circle cx="367" cy="154" r="1.35" fill="#0000c0"/><circle cx="124" cy="109" r="1.35" fill="#0000c0"/><circle cx="79.2" cy="187.6" r="1.35" fill="#0a6e0a"/><circle cx="80" cy="176" r="1.35" fill="#18e8e8"/><circle cx="486" cy="172" r="1.35" fill="#f2ee10"/><circle cx="405.6" cy="149.2" r="1.35" fill="#dc0018"/><circle cx="118.3" cy="169.2" r="1.35" fill="#18e8e8"/><circle cx="408" cy="158" r="1.35" fill="#dc0018"/><circle cx="203" cy="158" r="1.35" fill="#dc0018"/><circle cx="337.4" cy="223.2" r="1.35" fill="#dc0018"/><circle cx="370" cy="156.8" r="1.35" fill="#18e8e8"/><circle cx="328.5" cy="176.5" r="1.35" fill="#f2ee10"/><circle cx="208" cy="90" r="1.35" fill="#f2ee10"/><circle cx="365.7" cy="195.5" r="1.35" fill="#f2ee10"/><circle cx="373" cy="235" r="1.35" fill="#0000c0"/><circle cx="164" cy="125" r="1.35" fill="#0000c0"/><circle cx="447" cy="145" r="1.35" fill="#f2ee10"/><circle cx="198" cy="137" r="1.35" fill="#eaa020"/><circle cx="200.1" cy="158.3" r="1.35" fill="#dc0018"/><circle cx="119" cy="155.7" r="1.35" fill="#18e8e8"/><circle cx="164" cy="70.5" r="1.35" fill="#18e8e8"/><circle cx="443" cy="144" r="1.35" fill="#dc0018"/><circle cx="448" cy="214" r="1.35" fill="#f2ee10"/><circle cx="520.5" cy="262" r="1.35" fill="#f2ee10"/><circle cx="327.3" cy="190.1" r="1.35" fill="#18e8e8"/><circle cx="323.6" cy="187.2" r="1.35" fill="#dc0018"/><circle cx="486" cy="196" r="1.35" fill="#f2ee10"/><circle cx="492" cy="197" r="1.35" fill="#dc0018"/><circle cx="365.5" cy="162.9" r="1.35" fill="#f2ee10"/><circle cx="407" cy="158" r="1.35" fill="#18e8e8"/><circle cx="117" cy="116" r="1.35" fill="#0000c0"/><circle cx="194" cy="104" r="1.35" fill="#f2ee10"/><circle cx="202" cy="102" r="1.35" fill="#0a6e0a"/><circle cx="337.8" cy="209.7" r="1.35" fill="#dc0018"/><circle cx="112.5" cy="160.3" r="1.35" fill="#dc0018"/><circle cx="455" cy="157" r="1.35" fill="#eaa020"/><circle cx="124" cy="106" r="1.35" fill="#0000c0"/><circle cx="326.5" cy="203.6" r="1.35" fill="#f2ee10"/><circle cx="332.5" cy="179.6" r="1.35" fill="#18e8e8"/><circle cx="112.9" cy="149.1" r="1.35" fill="#dc0018"/><circle cx="157" cy="120" r="1.35" fill="#0a6e0a"/><circle cx="332.7" cy="239.3" r="1.35" fill="#f2ee10"/><circle cx="201.4" cy="143.6" r="1.35" fill="#dc0018"/><circle cx="207.1" cy="159.9" r="1.35" fill="#dc0018"/><circle cx="156" cy="124" r="1.35" fill="#18e8e8"/><circle cx="330" cy="162" r="1.35" fill="#18e8e8"/><circle cx="112" cy="107" r="1.35" fill="#0000c0"/><circle cx="416" cy="233" r="1.35" fill="#18e8e8"/><circle cx="371.8" cy="165.2" r="1.35" fill="#18e8e8"/><circle cx="117" cy="222" r="1.35" fill="#18e8e8"/><circle cx="483" cy="201" r="1.35" fill="#eaa020"/><circle cx="446" cy="181" r="1.35" fill="#dc0018"/><circle cx="375.5" cy="197.8" r="1.35" fill="#dc0018"/><circle cx="202" cy="82" r="1.35" fill="#0a6e0a"/><circle cx="412" cy="130" r="1.35" fill="#eaa020"/><circle cx="82" cy="169.8" r="1.35" fill="#18e8e8"/><circle cx="121.8" cy="168.2" r="1.35" fill="#f2ee10"/><circle cx="522" cy="167" r="1.35" fill="#f2ee10"/><circle cx="81.5" cy="139.8" r="1.35" fill="#18e8e8"/><circle cx="238" cy="113" r="1.35" fill="#eaa020"/><circle cx="372" cy="115.5" r="1.35" fill="#0000c0"/><circle cx="85.6" cy="183.5" r="1.35" fill="#0a6e0a"/><circle cx="229" cy="136" r="1.35" fill="#f2ee10"/><circle cx="367" cy="246" r="1.35" fill="#0000c0"/><circle cx="231" cy="114" r="1.35" fill="#0a6e0a"/><circle cx="486" cy="150" r="1.35" fill="#eaa020"/><circle cx="333.8" cy="245.1" r="1.35" fill="#0000c0"/><circle cx="371.6" cy="216.9" r="1.35" fill="#18e8e8"/><circle cx="458" cy="136" r="1.35" fill="#eaa020"/><circle cx="122.1" cy="151.6" r="1.35" fill="#18e8e8"/><circle cx="331.6" cy="215.3" r="1.35" fill="#0a6e0a"/><circle cx="370.7" cy="198.2" r="1.35" fill="#18e8e8"/><circle cx="372.2" cy="165.1" r="1.35" fill="#18e8e8"/><circle cx="369.4" cy="165.5" r="1.35" fill="#f2ee10"/><circle cx="73" cy="141" r="1.35" fill="#0000c0"/><circle cx="162.5" cy="56.8" r="1.35" fill="#18e8e8"/><circle cx="77.2" cy="230.3" r="1.35" fill="#f2ee10"/><circle cx="373.4" cy="215.2" r="1.35" fill="#0000c0"/><circle cx="235" cy="81" r="1.35" fill="#0a6e0a"/><circle cx="332.1" cy="227.1" r="1.35" fill="#f2ee10"/><circle cx="330" cy="146" r="1.35" fill="#18e8e8"/><circle cx="81.5" cy="163" r="1.35" fill="#18e8e8"/><circle cx="521.5" cy="142" r="1.35" fill="#dc0018"/><circle cx="232" cy="98" r="1.35" fill="#0a6e0a"/><circle cx="162" cy="151.8" r="1.35" fill="#eaa020"/><circle cx="485" cy="148" r="1.35" fill="#eaa020"/><circle cx="229" cy="122" r="1.35" fill="#f2ee10"/><circle cx="367.6" cy="159.2" r="1.35" fill="#f2ee10"/><circle cx="334.4" cy="196" r="1.35" fill="#18e8e8"/><circle cx="445" cy="166" r="1.35" fill="#dc0018"/><circle cx="329.2" cy="197.6" r="1.35" fill="#18e8e8"/><circle cx="117.7" cy="190.4" r="1.35" fill="#0a6e0a"/><circle cx="410" cy="229" r="1.35" fill="#0000c0"/><circle cx="324.7" cy="191.8" r="1.35" fill="#dc0018"/><circle cx="448" cy="203" r="1.35" fill="#f2ee10"/><circle cx="324.3" cy="186" r="1.35" fill="#dc0018"/><circle cx="203.7" cy="158" r="1.35" fill="#dc0018"/><circle cx="85.8" cy="220" r="1.35" fill="#f2ee10"/><circle cx="332.1" cy="189.5" r="1.35" fill="#18e8e8"/><circle cx="115" cy="215" r="1.35" fill="#0a6e0a"/><circle cx="523" cy="166" r="1.35" fill="#f2ee10"/><circle cx="369.1" cy="169.1" r="1.35" fill="#0a6e0a"/><circle cx="409.3" cy="156.3" r="1.35" fill="#dc0018"/><circle cx="365.5" cy="177.5" r="1.35" fill="#f2ee10"/><circle cx="121.7" cy="167.9" r="1.35" fill="#f2ee10"/><circle cx="197" cy="88" r="1.35" fill="#f2ee10"/><circle cx="520" cy="144" r="1.35" fill="#dc0018"/><circle cx="75" cy="135" r="1.35" fill="#0000c0"/><circle cx="330.4" cy="170.2" r="1.35" fill="#dc0018"/><circle cx="366.8" cy="220.7" r="1.35" fill="#0000c0"/><circle cx="483" cy="118" r="1.35" fill="#dc0018"/><circle cx="85.4" cy="193.1" r="1.35" fill="#0a6e0a"/><circle cx="164" cy="178" r="1.35" fill="#18e8e8"/><circle cx="195.5" cy="169" r="1.35" fill="#eaa020"/><circle cx="165" cy="117" r="1.35" fill="#0a6e0a"/><circle cx="333.7" cy="216.2" r="1.35" fill="#f2ee10"/><circle cx="369" cy="135" r="1.35" fill="#18e8e8"/><circle cx="369.9" cy="205.8" r="1.35" fill="#f2ee10"/><circle cx="368" cy="257" r="1.35" fill="#dc0018"/><circle cx="369.6" cy="170.7" r="1.35" fill="#dc0018"/><circle cx="330" cy="174" r="1.35" fill="#eaa020"/><circle cx="325.7" cy="197" r="1.35" fill="#f2ee10"/><circle cx="201" cy="140" r="1.35" fill="#dc0018"/><circle cx="119.2" cy="166.6" r="1.35" fill="#18e8e8"/><circle cx="80.3" cy="179.7" r="1.35" fill="#0a6e0a"/><circle cx="166" cy="118" r="1.35" fill="#18e8e8"/><circle cx="73.5" cy="111.5" r="1.35" fill="#0000c0"/><circle cx="77" cy="133" r="1.35" fill="#0000c0"/><circle cx="161" cy="150" r="1.35" fill="#dc0018"/><circle cx="159" cy="101.5" r="1.35" fill="#0000c0"/><circle cx="323.7" cy="168.4" r="1.35" fill="#f2ee10"/><circle cx="369.5" cy="213.4" r="1.35" fill="#18e8e8"/><circle cx="122.4" cy="176.8" r="1.35" fill="#f2ee10"/><circle cx="409" cy="204" r="1.35" fill="#0000c0"/><circle cx="82.2" cy="126" r="1.35" fill="#18e8e8"/><circle cx="367.5" cy="214.8" r="1.35" fill="#0a6e0a"/><circle cx="79.4" cy="209.8" r="1.35" fill="#f2ee10"/><circle cx="408" cy="203" r="1.35" fill="#18e8e8"/><circle cx="408" cy="134" r="1.35" fill="#dc0018"/><circle cx="83" cy="134" r="1.35" fill="#18e8e8"/><circle cx="369.9" cy="148.8" r="1.35" fill="#18e8e8"/><circle cx="165" cy="138" r="1.35" fill="#dc0018"/><circle cx="332.2" cy="217.2" r="1.35" fill="#eaa020"/><circle cx="334.3" cy="244.6" r="1.35" fill="#0000c0"/><circle cx="197" cy="186" r="1.35" fill="#eaa020"/><circle cx="121.2" cy="157.5" r="1.35" fill="#18e8e8"/><circle cx="449" cy="160" r="1.35" fill="#f2ee10"/><circle cx="447" cy="186" r="1.35" fill="#f2ee10"/><circle cx="369.5" cy="203.8" r="1.35" fill="#0000c0"/><circle cx="242" cy="98" r="1.35" fill="#eaa020"/><circle cx="371" cy="258" r="1.35" fill="#0000c0"/><circle cx="369.5" cy="162.4" r="1.35" fill="#18e8e8"/><circle cx="372.5" cy="202.3" r="1.35" fill="#18e8e8"/><circle cx="81.8" cy="224.3" r="1.35" fill="#f2ee10"/><circle cx="377.3" cy="174.2" r="1.35" fill="#eaa020"/><circle cx="325.2" cy="225.9" r="1.35" fill="#f2ee10"/><circle cx="167" cy="155" r="1.35" fill="#dc0018"/><circle cx="225" cy="129.5" r="1.35" fill="#f2ee10"/><circle cx="195.5" cy="80" r="1.35" fill="#f2ee10"/><circle cx="450" cy="141" r="1.35" fill="#dc0018"/><circle cx="485" cy="176" r="1.35" fill="#eaa020"/><circle cx="413" cy="197" r="1.35" fill="#f2ee10"/><circle cx="165" cy="107.5" r="1.35" fill="#0000c0"/><circle cx="370.2" cy="167.6" r="1.35" fill="#18e8e8"/><circle cx="374.6" cy="188.2" r="1.35" fill="#eaa020"/><circle cx="324.7" cy="224.2" r="1.35" fill="#eaa020"/><circle cx="453" cy="168" r="1.35" fill="#dc0018"/><circle cx="118.6" cy="163.6" r="1.35" fill="#0a6e0a"/><circle cx="328" cy="195.9" r="1.35" fill="#18e8e8"/><circle cx="333.7" cy="167.7" r="1.35" fill="#eaa020"/><circle cx="327.4" cy="239.6" r="1.35" fill="#f2ee10"/><circle cx="374.2" cy="175.3" r="1.35" fill="#eaa020"/><circle cx="80.5" cy="120" r="1.35" fill="#18e8e8"/><circle cx="328.8" cy="215.5" r="1.35" fill="#0000c0"/><circle cx="327" cy="165" r="1.35" fill="#eaa020"/><circle cx="458" cy="142" r="1.35" fill="#eaa020"/><circle cx="79.9" cy="213.1" r="1.35" fill="#0a6e0a"/><circle cx="328" cy="168" r="1.35" fill="#f2ee10"/><circle cx="326.6" cy="238.9" r="1.35" fill="#f2ee10"/><circle cx="236" cy="108" r="1.35" fill="#eaa020"/><circle cx="455" cy="152" r="1.35" fill="#eaa020"/><circle cx="118.7" cy="111.2" r="1.35" fill="#0000c0"/><circle cx="444" cy="179" r="1.35" fill="#dc0018"/><circle cx="410" cy="246" r="1.35" fill="#0000c0"/><circle cx="77" cy="145" r="1.35" fill="#0000c0"/><circle cx="162.5" cy="51.8" r="1.35" fill="#18e8e8"/><circle cx="373" cy="151.2" r="1.35" fill="#0a6e0a"/><circle cx="116" cy="150.4" r="1.35" fill="#f2ee10"/><circle cx="449" cy="173" r="1.35" fill="#dc0018"/><circle cx="365" cy="229" r="1.35" fill="#f2ee10"/><circle cx="205" cy="150" r="1.35" fill="#dc0018"/><circle cx="453" cy="148" r="1.35" fill="#dc0018"/><circle cx="373" cy="253" r="1.35" fill="#0000c0"/><circle cx="118.5" cy="96.5" r="1.35" fill="#0000c0"/><circle cx="124.3" cy="173.9" r="1.35" fill="#18e8e8"/><circle cx="231" cy="118" r="1.35" fill="#0a6e0a"/><circle cx="80.2" cy="212.7" r="1.35" fill="#dc0018"/><circle cx="483" cy="200" r="1.35" fill="#eaa020"/><circle cx="123.7" cy="151.6" r="1.35" fill="#eaa020"/><circle cx="81.7" cy="157.1" r="1.35" fill="#18e8e8"/><circle cx="118.3" cy="149.4" r="1.35" fill="#f2ee10"/><circle cx="520.5" cy="268" r="1.35" fill="#f2ee10"/><circle cx="202" cy="93" r="1.35" fill="#0a6e0a"/><circle cx="330.9" cy="186.5" r="1.35" fill="#eaa020"/><circle cx="240" cy="104" r="1.35" fill="#eaa020"/><circle cx="334.4" cy="179.5" r="1.35" fill="#dc0018"/><circle cx="325.6" cy="206.8" r="1.35" fill="#dc0018"/><circle cx="232" cy="114" r="1.35" fill="#0a6e0a"/><circle cx="377.1" cy="167" r="1.35" fill="#eaa020"/><circle cx="373" cy="206.4" r="1.35" fill="#0000c0"/><circle cx="374.2" cy="219.1" r="1.35" fill="#0000c0"/><circle cx="119" cy="226" r="1.35" fill="#18e8e8"/><circle cx="121.5" cy="192.2" r="1.35" fill="#18e8e8"/><circle cx="332.2" cy="199.7" r="1.35" fill="#f2ee10"/><circle cx="83.2" cy="154.7" r="1.35" fill="#18e8e8"/><circle cx="410" cy="215" r="1.35" fill="#dc0018"/><circle cx="329.1" cy="184.7" r="1.35" fill="#eaa020"/><circle cx="75.4" cy="209.1" r="1.35" fill="#dc0018"/><circle cx="75.5" cy="142" r="1.35" fill="#0000c0"/><circle cx="374" cy="244" r="1.35" fill="#0a6e0a"/><circle cx="366.7" cy="172.8" r="1.35" fill="#f2ee10"/><circle cx="327.6" cy="200.7" r="1.35" fill="#0000c0"/><circle cx="118.9" cy="144.5" r="1.35" fill="#18e8e8"/><circle cx="155.5" cy="134" r="1.35" fill="#0a6e0a"/><circle cx="486" cy="186" r="1.35" fill="#f2ee10"/><circle cx="404.8" cy="130" r="1.35" fill="#dc0018"/><circle cx="165" cy="113.5" r="1.35" fill="#0a6e0a"/><circle cx="229.5" cy="129.7" r="1.35" fill="#f2ee10"/><circle cx="447" cy="180" r="1.35" fill="#eaa020"/><circle cx="332" cy="175" r="1.35" fill="#dc0018"/><circle cx="234" cy="112" r="1.35" fill="#dc0018"/><circle cx="518" cy="138.5" r="1.35" fill="#eaa020"/><circle cx="85.6" cy="212.7" r="1.35" fill="#f2ee10"/><circle cx="375.6" cy="197.2" r="1.35" fill="#eaa020"/><circle cx="328.1" cy="218.9" r="1.35" fill="#0000c0"/><circle cx="328.6" cy="196.2" r="1.35" fill="#f2ee10"/><circle cx="450" cy="217" r="1.35" fill="#f2ee10"/><circle cx="369" cy="125" r="1.35" fill="#18e8e8"/><circle cx="167.4" cy="150.1" r="1.35" fill="#dc0018"/><circle cx="158" cy="174" r="1.35" fill="#0000c0"/><circle cx="369.2" cy="216.6" r="1.35" fill="#0000c0"/><circle cx="482" cy="182" r="1.35" fill="#dc0018"/><circle cx="372" cy="169.5" r="1.35" fill="#18e8e8"/><circle cx="121" cy="200" r="1.35" fill="#0a6e0a"/><circle cx="371.7" cy="171.2" r="1.35" fill="#0000c0"/><circle cx="369.6" cy="154.4" r="1.35" fill="#dc0018"/><circle cx="79.5" cy="194.7" r="1.35" fill="#0a6e0a"/><circle cx="481" cy="148" r="1.35" fill="#dc0018"/><circle cx="374.1" cy="221.3" r="1.35" fill="#0000c0"/><circle cx="127.7" cy="156.3" r="1.35" fill="#dc0018"/><circle cx="123.8" cy="138.8" r="1.35" fill="#18e8e8"/><circle cx="452" cy="162" r="1.35" fill="#dc0018"/><circle cx="410" cy="177" r="1.35" fill="#0000c0"/><circle cx="333.9" cy="188.8" r="1.35" fill="#f2ee10"/><circle cx="372.5" cy="169.7" r="1.35" fill="#18e8e8"/><circle cx="449" cy="133" r="1.35" fill="#dc0018"/><circle cx="121.7" cy="179.3" r="1.35" fill="#f2ee10"/><circle cx="369.7" cy="172.3" r="1.35" fill="#0000c0"/><circle cx="412" cy="221" r="1.35" fill="#f2ee10"/><circle cx="412" cy="203" r="1.35" fill="#f2ee10"/><circle cx="334.1" cy="218.2" r="1.35" fill="#0000c0"/><circle cx="334.5" cy="186.7" r="1.35" fill="#18e8e8"/><circle cx="127" cy="113.5" r="1.35" fill="#0a6e0a"/><circle cx="82" cy="123" r="1.35" fill="#18e8e8"/><circle cx="408" cy="220" r="1.35" fill="#0000c0"/><circle cx="334.8" cy="225.1" r="1.35" fill="#dc0018"/><circle cx="204" cy="147" r="1.35" fill="#dc0018"/><circle cx="376" cy="198.6" r="1.35" fill="#eaa020"/><circle cx="374.7" cy="181.3" r="1.35" fill="#eaa020"/><circle cx="447" cy="208" r="1.35" fill="#f2ee10"/><circle cx="408" cy="168" r="1.35" fill="#0a6e0a"/><circle cx="376.2" cy="216.6" r="1.35" fill="#0a6e0a"/><circle cx="331.6" cy="250.2" r="1.35" fill="#0000c0"/><circle cx="197" cy="152" r="1.35" fill="#eaa020"/><circle cx="163" cy="142" r="1.35" fill="#0a6e0a"/><circle cx="78" cy="216.6" r="1.35" fill="#f2ee10"/><circle cx="324.3" cy="205.4" r="1.35" fill="#dc0018"/><circle cx="484" cy="128" r="1.35" fill="#dc0018"/><circle cx="486" cy="155" r="1.35" fill="#eaa020"/><circle cx="238" cy="108" r="1.35" fill="#dc0018"/><circle cx="407" cy="193" r="1.35" fill="#0000c0"/><circle cx="82.5" cy="150" r="1.35" fill="#18e8e8"/><circle cx="330.6" cy="235.7" r="1.35" fill="#0000c0"/><circle cx="485" cy="199" r="1.35" fill="#f2ee10"/><circle cx="125.3" cy="177.6" r="1.35" fill="#dc0018"/><circle cx="325.5" cy="226.3" r="1.35" fill="#dc0018"/><circle cx="242.5" cy="112" r="1.35" fill="#eaa020"/><circle cx="80.2" cy="188.2" r="1.35" fill="#0a6e0a"/><circle cx="332.7" cy="186" r="1.35" fill="#0000c0"/><circle cx="331.9" cy="190.1" r="1.35" fill="#18e8e8"/><circle cx="121" cy="134" r="1.35" fill="#eaa020"/><circle cx="332.6" cy="237.1" r="1.35" fill="#dc0018"/><circle cx="77.3" cy="206.8" r="1.35" fill="#f2ee10"/><circle cx="486" cy="202" r="1.35" fill="#f2ee10"/><circle cx="405" cy="140" r="1.35" fill="#dc0018"/><circle cx="444" cy="199" r="1.35" fill="#f2ee10"/><circle cx="81" cy="166" r="1.35" fill="#18e8e8"/><circle cx="84.4" cy="222.9" r="1.35" fill="#f2ee10"/><circle cx="444" cy="150" r="1.35" fill="#dc0018"/><circle cx="126.6" cy="175" r="1.35" fill="#dc0018"/><circle cx="374.1" cy="183.3" r="1.35" fill="#f2ee10"/><circle cx="123.8" cy="163.7" r="1.35" fill="#f2ee10"/><circle cx="119.5" cy="176.7" r="1.35" fill="#dc0018"/><circle cx="330" cy="262" r="1.35" fill="#0000c0"/><circle cx="334" cy="168" r="1.35" fill="#18e8e8"/><circle cx="82.2" cy="199.2" r="1.35" fill="#dc0018"/><circle cx="369.5" cy="153.1" r="1.35" fill="#f2ee10"/><circle cx="327.4" cy="172.3" r="1.35" fill="#f2ee10"/><circle cx="123.7" cy="158.9" r="1.35" fill="#eaa020"/><circle cx="197" cy="164" r="1.35" fill="#eaa020"/><circle cx="237" cy="110" r="1.35" fill="#dc0018"/><circle cx="79.5" cy="161.4" r="1.35" fill="#18e8e8"/><circle cx="124" cy="133" r="1.35" fill="#0a6e0a"/><circle cx="443" cy="160" r="1.35" fill="#dc0018"/><circle cx="406" cy="143" r="1.35" fill="#dc0018"/><circle cx="521.5" cy="255" r="1.35" fill="#f2ee10"/><circle cx="234" cy="103" r="1.35" fill="#eaa020"/><circle cx="81.5" cy="247" r="1.35" fill="#f2ee10"/><circle cx="80" cy="182.7" r="1.35" fill="#0a6e0a"/><circle cx="200" cy="139" r="1.35" fill="#dc0018"/><circle cx="160" cy="121" r="1.35" fill="#f2ee10"/><circle cx="198" cy="94" r="1.35" fill="#0a6e0a"/><circle cx="329.5" cy="116" r="1.35" fill="#18e8e8"/><circle cx="202.5" cy="144.5" r="1.35" fill="#dc0018"/><circle cx="372.9" cy="161.6" r="1.35" fill="#18e8e8"/><circle cx="370" cy="140" r="1.35" fill="#0000c0"/><circle cx="376.7" cy="196.2" r="1.35" fill="#eaa020"/><circle cx="79" cy="215.1" r="1.35" fill="#f2ee10"/><circle cx="484" cy="207" r="1.35" fill="#f2ee10"/><circle cx="123.6" cy="173.1" r="1.35" fill="#18e8e8"/><circle cx="409" cy="258" r="1.35" fill="#f2ee10"/><circle cx="327.7" cy="211.1" r="1.35" fill="#f2ee10"/><circle cx="521" cy="179" r="1.35" fill="#eaa020"/><circle cx="337.5" cy="200.8" r="1.35" fill="#dc0018"/><circle cx="325.4" cy="238.5" r="1.35" fill="#dc0018"/><circle cx="121" cy="136" r="1.35" fill="#eaa020"/><circle cx="331" cy="263" r="1.35" fill="#18e8e8"/><circle cx="241" cy="103" r="1.35" fill="#eaa020"/><circle cx="332.3" cy="181.7" r="1.35" fill="#eaa020"/><circle cx="449" cy="210" r="1.35" fill="#f2ee10"/><circle cx="371" cy="238" r="1.35" fill="#0a6e0a"/><circle cx="239" cy="120" r="1.35" fill="#dc0018"/><circle cx="487" cy="220" r="1.35" fill="#f2ee10"/><circle cx="239" cy="124.5" r="1.35" fill="#dc0018"/><circle cx="370.5" cy="111.5" r="1.35" fill="#0000c0"/><circle cx="329.2" cy="185.3" r="1.35" fill="#eaa020"/><circle cx="404" cy="190" r="1.35" fill="#eaa020"/><circle cx="329" cy="239" r="1.35" fill="#0a6e0a"/><circle cx="229.7" cy="134" r="1.35" fill="#f2ee10"/><circle cx="370.5" cy="204.5" r="1.35" fill="#dc0018"/><circle cx="113.1" cy="169.5" r="1.35" fill="#0a6e0a"/><circle cx="158" cy="119" r="1.35" fill="#0a6e0a"/><circle cx="81.5" cy="149.4" r="1.35" fill="#18e8e8"/><circle cx="163" cy="150" r="1.35" fill="#dc0018"/><circle cx="163" cy="126" r="1.35" fill="#0000c0"/><circle cx="519" cy="211" r="1.35" fill="#f2ee10"/><circle cx="233" cy="103" r="1.35" fill="#0a6e0a"/><circle cx="121" cy="235" r="1.35" fill="#18e8e8"/><circle cx="120" cy="177.2" r="1.35" fill="#f2ee10"/><circle cx="166" cy="156" r="1.35" fill="#dc0018"/><circle cx="162" cy="147" r="1.35" fill="#18e8e8"/><circle cx="200" cy="128" r="1.35" fill="#eaa020"/><circle cx="366" cy="198.3" r="1.35" fill="#f2ee10"/><circle cx="408" cy="155" r="1.35" fill="#0a6e0a"/><circle cx="82" cy="140" r="1.35" fill="#18e8e8"/><circle cx="371.1" cy="193.8" r="1.35" fill="#dc0018"/><circle cx="71" cy="140" r="1.35" fill="#0000c0"/><circle cx="166.8" cy="155.9" r="1.35" fill="#dc0018"/><circle cx="118.2" cy="115.9" r="1.35" fill="#0000c0"/><circle cx="79.9" cy="215.1" r="1.35" fill="#f2ee10"/><circle cx="366" cy="206.3" r="1.35" fill="#0a6e0a"/><circle cx="332.5" cy="167" r="1.35" fill="#f2ee10"/><circle cx="405" cy="194" r="1.35" fill="#eaa020"/><circle cx="335.3" cy="222.9" r="1.35" fill="#0000c0"/><circle cx="410.3" cy="154.4" r="1.35" fill="#dc0018"/><circle cx="123" cy="173" r="1.35" fill="#dc0018"/><circle cx="456" cy="155" r="1.35" fill="#eaa020"/><circle cx="125.6" cy="145.4" r="1.35" fill="#eaa020"/><circle cx="165.8" cy="147.8" r="1.35" fill="#eaa020"/><circle cx="80.5" cy="175.5" r="1.35" fill="#0000c0"/><circle cx="236" cy="100" r="1.35" fill="#eaa020"/><circle cx="374.5" cy="196.7" r="1.35" fill="#0000c0"/><circle cx="489" cy="172.5" r="1.35" fill="#dc0018"/><circle cx="122" cy="207" r="1.35" fill="#18e8e8"/><circle cx="369.6" cy="213" r="1.35" fill="#0000c0"/><circle cx="333.8" cy="198.7" r="1.35" fill="#18e8e8"/><circle cx="118" cy="229" r="1.35" fill="#18e8e8"/><circle cx="122" cy="168.9" r="1.35" fill="#f2ee10"/><circle cx="483" cy="203" r="1.35" fill="#f2ee10"/><circle cx="327" cy="207.4" r="1.35" fill="#0000c0"/><circle cx="485.5" cy="153" r="1.35" fill="#eaa020"/><circle cx="79.5" cy="113" r="1.35" fill="#18e8e8"/><circle cx="407" cy="171" r="1.35" fill="#18e8e8"/><circle cx="112.5" cy="113.5" r="1.35" fill="#0000c0"/><circle cx="206" cy="147" r="1.35" fill="#dc0018"/><circle cx="449" cy="190" r="1.35" fill="#dc0018"/><circle cx="82.3" cy="194.4" r="1.35" fill="#0a6e0a"/><circle cx="117.3" cy="159" r="1.35" fill="#f2ee10"/><circle cx="201" cy="144" r="1.35" fill="#dc0018"/><circle cx="124.5" cy="171.9" r="1.35" fill="#dc0018"/><circle cx="372.9" cy="198" r="1.35" fill="#0000c0"/><circle cx="368.1" cy="220.2" r="1.35" fill="#0000c0"/><circle cx="325.9" cy="187.8" r="1.35" fill="#f2ee10"/><circle cx="229.7" cy="128.7" r="1.35" fill="#f2ee10"/><circle cx="126.5" cy="159.6" r="1.35" fill="#dc0018"/><circle cx="123.4" cy="181.6" r="1.35" fill="#dc0018"/><circle cx="410.5" cy="265" r="1.35" fill="#0000c0"/><circle cx="375.9" cy="204.5" r="1.35" fill="#f2ee10"/><circle cx="118.4" cy="148.9" r="1.35" fill="#f2ee10"/><circle cx="333.5" cy="181.5" r="1.35" fill="#f2ee10"/><circle cx="370.1" cy="192.2" r="1.35" fill="#18e8e8"/><circle cx="332" cy="266" r="1.35" fill="#0000c0"/><circle cx="120.7" cy="162.9" r="1.35" fill="#f2ee10"/></g>
<g stroke="#5a5a5a" stroke-width="1.8" fill="none">
<line x1="42.1" y1="38" x2="543.4" y2="38"/>
<line x1="42.1" y1="282" x2="543.4" y2="282"/>
<line x1="43" y1="37.1" x2="43" y2="282.9"/>
<line x1="292.9" y1="37.1" x2="292.9" y2="282.9"/>
<line x1="542.5" y1="37.1" x2="542.5" y2="282.9"/>
<line x1="39" y1="282.00" x2="43" y2="282.00"/><line x1="39" y1="233.20" x2="43" y2="233.20"/><line x1="39" y1="184.40" x2="43" y2="184.40"/><line x1="39" y1="135.60" x2="43" y2="135.60"/><line x1="39" y1="86.80" x2="43" y2="86.80"/><line x1="39" y1="38.00" x2="43" y2="38.00"/><line x1="43.00" y1="282" x2="43.00" y2="285.5"/><line x1="293.00" y1="282" x2="293.00" y2="285.5"/><line x1="82.10" y1="282" x2="82.10" y2="285.5"/><line x1="332.10" y1="282" x2="332.10" y2="285.5"/><line x1="121.20" y1="282" x2="121.20" y2="285.5"/><line x1="371.20" y1="282" x2="371.20" y2="285.5"/><line x1="160.30" y1="282" x2="160.30" y2="285.5"/><line x1="410.30" y1="282" x2="410.30" y2="285.5"/><line x1="199.40" y1="282" x2="199.40" y2="285.5"/><line x1="449.40" y1="282" x2="449.40" y2="285.5"/><line x1="238.50" y1="282" x2="238.50" y2="285.5"/><line x1="488.50" y1="282" x2="488.50" y2="285.5"/><line x1="277.60" y1="282" x2="277.60" y2="285.5"/><line x1="527.60" y1="282" x2="527.60" y2="285.5"/>
</g>
<g><text transform="translate(35.00,286.30) scale(0.900,1)" font-size="11.8" text-anchor="end">0</text><text transform="translate(35.00,237.50) scale(0.900,1)" font-size="11.8" text-anchor="end">5</text><text transform="translate(35.00,188.70) scale(0.900,1)" font-size="11.8" text-anchor="end">10</text><text transform="translate(35.00,139.90) scale(0.900,1)" font-size="11.8" text-anchor="end">15</text><text transform="translate(35.00,91.10) scale(0.900,1)" font-size="11.8" text-anchor="end">20</text><text transform="translate(35.00,42.30) scale(0.900,1)" font-size="11.8" text-anchor="end">25</text><text transform="translate(43.00,297.60) scale(0.900,1)" font-size="11.8" text-anchor="middle">0.5</text><text transform="translate(293.00,297.60) scale(0.900,1)" font-size="11.8" text-anchor="middle">0.5</text><text transform="translate(82.10,297.60) scale(0.900,1)" font-size="11.8" text-anchor="middle">1.0</text><text transform="translate(332.10,297.60) scale(0.900,1)" font-size="11.8" text-anchor="middle">1.0</text><text transform="translate(121.20,297.60) scale(0.900,1)" font-size="11.8" text-anchor="middle">1.5</text><text transform="translate(371.20,297.60) scale(0.900,1)" font-size="11.8" text-anchor="middle">1.5</text><text transform="translate(160.30,297.60) scale(0.900,1)" font-size="11.8" text-anchor="middle">2.0</text><text transform="translate(410.30,297.60) scale(0.900,1)" font-size="11.8" text-anchor="middle">2.0</text><text transform="translate(199.40,297.60) scale(0.900,1)" font-size="11.8" text-anchor="middle">2.5</text><text transform="translate(449.40,297.60) scale(0.900,1)" font-size="11.8" text-anchor="middle">2.5</text><text transform="translate(238.50,297.60) scale(0.900,1)" font-size="11.8" text-anchor="middle">3.0</text><text transform="translate(488.50,297.60) scale(0.900,1)" font-size="11.8" text-anchor="middle">3.0</text><text transform="translate(277.60,297.60) scale(0.900,1)" font-size="11.8" text-anchor="middle">3.5</text><text transform="translate(527.60,297.60) scale(0.900,1)" font-size="11.8" text-anchor="middle">3.5</text></g>
<text transform="translate(168.2,313.2) scale(0.92,1)" font-size="12" text-anchor="middle">Velocity (m/s)</text>
<text transform="translate(418.2,313.2) scale(0.92,1)" font-size="12" text-anchor="middle">Velocity (m/s)</text>
<text transform="translate(16.8,159.3) rotate(-90) scale(1.04,1)" font-size="11" text-anchor="middle">Area (m<tspan font-size="6" dy="-8">2</tspan><tspan dy="8">)</tspan></text>
<rect x="203.5" y="197.8" width="85" height="79.5" rx="2" fill="#fff" stroke="#d4d4d4" stroke-width="1"/><circle cx="216" cy="205.60" r="1.25" fill="#eaa020" style="filter:blur(0.3px)"/><text x="232.4" y="208.30" font-size="9">Altitude=1.5m</text><circle cx="216" cy="218.35" r="1.25" fill="#dc0018" style="filter:blur(0.3px)"/><text x="232.4" y="221.05" font-size="9">Altitude=1m</text><circle cx="216" cy="231.10" r="1.25" fill="#0a6e0a" style="filter:blur(0.3px)"/><text x="232.4" y="233.80" font-size="9">Altitude=2.5m</text><circle cx="216" cy="243.85" r="1.25" fill="#f2ee10" style="filter:blur(0.3px)"/><text x="232.4" y="246.55" font-size="9">Altitude=2m</text><circle cx="216" cy="256.60" r="1.25" fill="#0000c0" style="filter:blur(0.3px)"/><text x="232.4" y="259.30" font-size="9">Altitude=3.5m</text><circle cx="216" cy="269.35" r="1.25" fill="#18e8e8" style="filter:blur(0.3px)"/><text x="232.4" y="272.05" font-size="9">Altitude=3m</text>
</svg>
</body></html>
